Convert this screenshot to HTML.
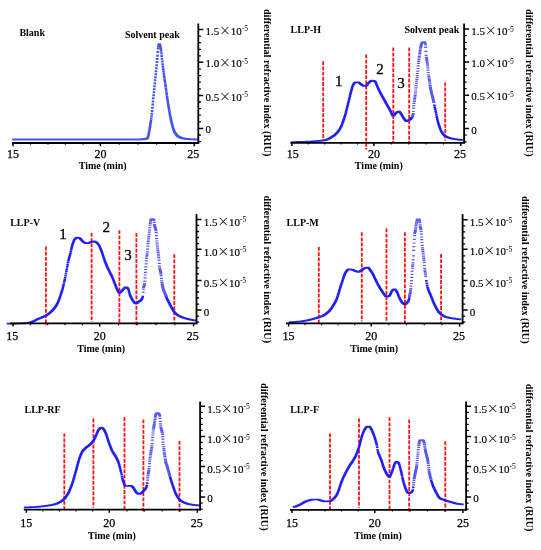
<!DOCTYPE html>
<html><head><meta charset="utf-8"><style>
html,body{margin:0;padding:0;background:#fff;}
svg{display:block;}
text{font-family:"Liberation Serif", "Times New Roman", serif;fill:#000;}
.tl{font-size:12px;stroke:#000;stroke-width:0.25px;}
.bl{font-size:10px;font-weight:bold;}
.yl{font-size:11px;stroke:#000;stroke-width:0.15px;}
.tm{font-family:"Noto Serif CJK SC","Liberation Serif",serif;font-size:11.5px;stroke-width:0.2px;}
.sup{font-size:7.5px;stroke-width:0;}
.rl{font-size:10.2px;font-weight:bold;}
.nm{font-size:10px;font-weight:bold;}
.num{font-size:15px;stroke:#000;stroke-width:0.3px;}
</style></head><body>
<svg width="541" height="550" viewBox="0 0 541 550">
<rect width="541" height="550" fill="#fff"/>
<path d="M12.2 139.5h2.6M12.5 139.5h2.6M12.8 139.5h2.6M13.1 139.5h2.6M13.4 139.5h2.6M13.7 139.5h2.6M14 139.5h2.6M14.3 139.5h2.6M14.6 139.5h2.6M14.9 139.5h2.6M15.2 139.5h2.6M15.5 139.5h2.6M15.8 139.5h2.6M16.1 139.5h2.6M16.4 139.5h2.6M16.7 139.5h2.6M17 139.5h2.6M17.3 139.5h2.6M17.6 139.5h2.6M17.9 139.5h2.6M18.2 139.5h2.6M18.5 139.5h2.6M18.8 139.5h2.6M19.1 139.5h2.6M19.4 139.5h2.6M19.7 139.5h2.6M20 139.5h2.6M20.3 139.5h2.6M20.6 139.5h2.6M20.9 139.5h2.6M21.2 139.5h2.6M21.5 139.5h2.6M21.8 139.5h2.6M22.1 139.5h2.6M22.4 139.5h2.6M22.7 139.5h2.6M23 139.5h2.6M23.3 139.5h2.6M23.6 139.5h2.6M23.9 139.5h2.6M24.2 139.5h2.6M24.5 139.5h2.6M24.8 139.5h2.6M25.1 139.5h2.6M25.4 139.5h2.6M25.7 139.5h2.6M26 139.5h2.6M26.3 139.5h2.6M26.6 139.5h2.6M26.9 139.5h2.6M27.2 139.5h2.6M27.5 139.5h2.6M27.8 139.5h2.6M28.1 139.5h2.6M28.4 139.5h2.6M28.7 139.5h2.6M29 139.5h2.6M29.3 139.5h2.6M29.6 139.5h2.6M29.9 139.5h2.6M30.2 139.5h2.6M30.5 139.5h2.6M30.8 139.5h2.6M31.1 139.5h2.6M31.4 139.5h2.6M31.7 139.5h2.6M32 139.5h2.6M32.3 139.5h2.6M32.6 139.5h2.6M32.9 139.5h2.6M33.2 139.5h2.6M33.5 139.5h2.6M33.8 139.5h2.6M34.1 139.5h2.6M34.4 139.5h2.6M34.7 139.5h2.6M35 139.5h2.6M35.3 139.5h2.6M35.6 139.5h2.6M35.9 139.5h2.6M36.2 139.5h2.6M36.5 139.5h2.6M36.8 139.5h2.6M37.1 139.5h2.6M37.4 139.5h2.6M37.7 139.5h2.6M38 139.5h2.6M38.3 139.5h2.6M38.6 139.5h2.6M38.9 139.5h2.6M39.2 139.5h2.6M39.5 139.5h2.6M39.8 139.5h2.6M40.1 139.5h2.6M40.4 139.5h2.6M40.7 139.5h2.6M41 139.5h2.6M41.3 139.5h2.6M41.6 139.5h2.6M41.9 139.5h2.6M42.2 139.5h2.6M42.5 139.5h2.6M42.8 139.5h2.6M43.1 139.5h2.6M43.4 139.5h2.6M43.7 139.5h2.6M44 139.5h2.6M44.3 139.5h2.6M44.6 139.5h2.6M44.9 139.5h2.6M45.2 139.5h2.6M45.5 139.5h2.6M45.8 139.5h2.6M46.1 139.5h2.6M46.4 139.5h2.6M46.7 139.5h2.6M47 139.5h2.6M47.3 139.5h2.6M47.6 139.5h2.6M47.9 139.5h2.6M48.2 139.5h2.6M48.5 139.5h2.6M48.8 139.5h2.6M49.1 139.5h2.6M49.4 139.5h2.6M49.7 139.5h2.6M50 139.5h2.6M50.3 139.5h2.6M50.6 139.5h2.6M50.9 139.5h2.6M51.2 139.5h2.6M51.5 139.5h2.6M51.8 139.5h2.6M52.1 139.5h2.6M52.4 139.5h2.6M52.7 139.5h2.6M53 139.5h2.6M53.3 139.5h2.6M53.6 139.5h2.6M53.9 139.5h2.6M54.2 139.5h2.6M54.5 139.5h2.6M54.8 139.5h2.6M55.1 139.5h2.6M55.4 139.5h2.6M55.7 139.5h2.6M56 139.5h2.6M56.3 139.5h2.6M56.6 139.5h2.6M56.9 139.5h2.6M57.2 139.5h2.6M57.5 139.5h2.6M57.8 139.5h2.6M58.1 139.5h2.6M58.4 139.5h2.6M58.7 139.5h2.6M59 139.5h2.6M59.3 139.5h2.6M59.6 139.5h2.6M59.9 139.5h2.6M60.2 139.5h2.6M60.5 139.5h2.6M60.8 139.5h2.6M61.1 139.5h2.6M61.4 139.5h2.6M61.7 139.5h2.6M62 139.5h2.6M62.3 139.5h2.6M62.6 139.5h2.6M62.9 139.5h2.6M63.2 139.5h2.6M63.5 139.5h2.6M63.8 139.5h2.6M64.1 139.5h2.6M64.4 139.5h2.6M64.7 139.5h2.6M65 139.5h2.6M65.3 139.5h2.6M65.6 139.5h2.6M65.9 139.5h2.6M66.2 139.5h2.6M66.5 139.5h2.6M66.8 139.5h2.6M67.1 139.5h2.6M67.4 139.5h2.6M67.7 139.5h2.6M68 139.5h2.6M68.3 139.5h2.6M68.6 139.5h2.6M68.9 139.5h2.6M69.2 139.5h2.6M69.5 139.5h2.6M69.8 139.5h2.6M70.1 139.5h2.6M70.4 139.5h2.6M70.7 139.5h2.6M71 139.5h2.6M71.3 139.5h2.6M71.6 139.5h2.6M71.9 139.5h2.6M72.2 139.5h2.6M72.5 139.5h2.6M72.8 139.5h2.6M73.1 139.5h2.6M73.4 139.5h2.6M73.7 139.5h2.6M74 139.5h2.6M74.3 139.5h2.6M74.6 139.5h2.6M74.9 139.5h2.6M75.2 139.5h2.6M75.5 139.5h2.6M75.8 139.5h2.6M76.1 139.5h2.6M76.4 139.5h2.6M76.7 139.5h2.6M77 139.5h2.6M77.3 139.5h2.6M77.6 139.5h2.6M77.9 139.5h2.6M78.2 139.5h2.6M78.5 139.5h2.6M78.8 139.5h2.6M79.1 139.5h2.6M79.4 139.5h2.6M79.7 139.5h2.6M80 139.5h2.6M80.3 139.5h2.6M80.6 139.5h2.6M80.9 139.5h2.6M81.2 139.5h2.6M81.5 139.5h2.6M81.8 139.5h2.6M82.1 139.5h2.6M82.4 139.5h2.6M82.7 139.5h2.6M83 139.5h2.6M83.3 139.5h2.6M83.6 139.5h2.6M83.9 139.5h2.6M84.2 139.5h2.6M84.5 139.5h2.6M84.8 139.5h2.6M85.1 139.5h2.6M85.4 139.5h2.6M85.7 139.5h2.6M86 139.5h2.6M86.3 139.5h2.6M86.6 139.5h2.6M86.9 139.5h2.6M87.2 139.5h2.6M87.5 139.5h2.6M87.8 139.5h2.6M88.1 139.5h2.6M88.4 139.5h2.6M88.7 139.5h2.6M89 139.5h2.6M89.3 139.5h2.6M89.6 139.5h2.6M89.9 139.5h2.6M90.2 139.5h2.6M90.5 139.5h2.6M90.8 139.5h2.6M91.1 139.5h2.6M91.4 139.5h2.6M91.7 139.5h2.6M92 139.5h2.6M92.3 139.5h2.6M92.6 139.5h2.6M92.9 139.5h2.6M93.2 139.5h2.6M93.5 139.5h2.6M93.8 139.5h2.6M94.1 139.5h2.6M94.4 139.5h2.6M94.7 139.5h2.6M95 139.5h2.6M95.3 139.5h2.6M95.6 139.5h2.6M95.9 139.5h2.6M96.2 139.5h2.6M96.5 139.5h2.6M96.8 139.5h2.6M97.1 139.5h2.6M97.4 139.5h2.6M97.7 139.5h2.6M98 139.5h2.6M98.3 139.5h2.6M98.6 139.5h2.6M98.9 139.5h2.6M99.2 139.5h2.6M99.5 139.5h2.6M99.8 139.5h2.6M100.1 139.5h2.6M100.4 139.5h2.6M100.7 139.5h2.6M101 139.5h2.6M101.3 139.5h2.6M101.6 139.5h2.6M101.9 139.5h2.6M102.2 139.5h2.6M102.5 139.5h2.6M102.8 139.5h2.6M103.1 139.5h2.6M103.4 139.5h2.6M103.7 139.5h2.6M104 139.5h2.6M104.3 139.5h2.6M104.6 139.5h2.6M104.9 139.5h2.6M105.2 139.5h2.6M105.5 139.5h2.6M105.8 139.5h2.6M106.1 139.5h2.6M106.4 139.5h2.6M106.7 139.5h2.6M107 139.5h2.6M107.3 139.5h2.6M107.6 139.5h2.6M107.9 139.5h2.6M108.2 139.5h2.6M108.5 139.5h2.6M108.8 139.5h2.6M109.1 139.5h2.6M109.4 139.5h2.6M109.7 139.5h2.6M110 139.5h2.6M110.3 139.5h2.6M110.6 139.5h2.6M110.9 139.5h2.6M111.2 139.5h2.6M111.5 139.5h2.6M111.8 139.5h2.6M112.1 139.5h2.6M112.4 139.5h2.6M112.7 139.5h2.6M113 139.5h2.6M113.3 139.5h2.6M113.6 139.5h2.6M113.9 139.5h2.6M114.2 139.5h2.6M114.5 139.5h2.6M114.8 139.5h2.6M115.1 139.5h2.6M115.4 139.5h2.6M115.7 139.5h2.6M116 139.5h2.6M116.3 139.5h2.6M116.6 139.5h2.6M116.9 139.5h2.6M117.2 139.5h2.6M117.5 139.5h2.6M117.8 139.5h2.6M118.1 139.5h2.6M118.4 139.5h2.6M118.7 139.5h2.6M119 139.5h2.6M119.3 139.5h2.6M119.6 139.5h2.6M119.9 139.5h2.6M120.2 139.5h2.6M120.5 139.5h2.6M120.8 139.5h2.6M121.1 139.5h2.6M121.4 139.5h2.6M121.7 139.5h2.6M122 139.5h2.6M122.3 139.5h2.6M122.6 139.5h2.6M122.9 139.5h2.6M123.2 139.5h2.6M123.5 139.5h2.6M123.8 139.5h2.6M124.1 139.5h2.6M124.4 139.5h2.6M124.7 139.5h2.6M125 139.5h2.6M125.3 139.5h2.6M125.6 139.5h2.6M125.9 139.5h2.6M126.2 139.5h2.6M126.5 139.5h2.6M126.8 139.5h2.6M127.1 139.5h2.6M127.4 139.5h2.6M127.7 139.5h2.6M128 139.5h2.6M128.3 139.5h2.6M128.6 139.5h2.6M128.9 139.5h2.6M129.2 139.4h2.6M129.5 139.4h2.6M129.8 139.4h2.6M130.1 139.4h2.6M130.4 139.4h2.6M130.7 139.4h2.6M131 139.4h2.6M131.3 139.4h2.6M131.6 139.4h2.6M131.9 139.4h2.6M132.2 139.4h2.6M132.5 139.4h2.6M132.8 139.4h2.6M133.1 139.4h2.6M133.4 139.4h2.6M133.7 139.4h2.6M134 139.4h2.6M134.3 139.4h2.6M134.6 139.4h2.6M134.9 139.4h2.6M135.2 139.4h2.6M135.5 139.4h2.6M135.8 139.4h2.6M136.1 139.4h2.6M136.4 139.4h2.6M136.7 139.4h2.6M137 139.4h2.6M137.3 139.4h2.6M137.6 139.4h2.6M137.9 139.4h2.6M138.2 139.4h2.6M138.5 139.4h2.6M138.8 139.4h2.6M139.1 139.4h2.6M139.4 139.4h2.6M139.7 139.4h2.6M140 139.4h2.6M140.3 139.3h2.6M140.6 139.3h2.6M140.9 139.3h2.6M141.2 139.3h2.6M141.5 139.3h2.6M141.8 139.2h2.6M142.1 139.2h2.6M142.4 139.2h2.6M142.7 139.1h2.6M143 139.1h2.6M143.3 139.1h2.6M143.6 139h2.6M143.9 139h2.6M144.2 138.9h2.6M144.5 138.8h2.6M144.8 138.8h2.6M145.1 138.7h2.6M145.4 138.5h2.6M145.7 138.4h2.6M146 138.2h2.6M146.3 138h2.6M146.6 137.5h2.6M146.9 136.5h2.6M147.2 135.2h2.6M147.5 133.6h2.6M147.8 131.9h2.6M148.1 130.2h2.6M148.4 128.6h2.6M148.7 126.9h2.6M149 125h2.6M149.3 123h2.6M149.6 120.9h2.6M149.9 118.7h2.6M150.2 116.3h2.6M150.5 113.7h2.6M150.8 110.9h2.6M151.1 107.8h2.6M151.4 104.6h2.6M151.7 101.4h2.6M152 98.3h2.6M152.3 95.3h2.6M152.6 92.3h2.6M152.9 89.3h2.6M153.2 86.2h2.6M153.5 83.2h2.6M153.8 80.2h2.6M154.1 77.2h2.6M154.4 74.2h2.6M154.7 71.2h2.6M155 68.2h2.6M155.3 65.2h2.6M155.6 62.1h2.6M155.9 59.1h2.6M156.2 55.7h2.6M156.5 52h2.6M156.8 48.6h2.6M157.1 46.2h2.6M157.4 45h2.6M157.7 44.3h2.6M158 44.2h2.6M158.3 44.4h2.6M158.6 44.8h2.6M158.9 45.7h2.6M159.2 47.1h2.6M159.5 48.7h2.6M159.8 50.7h2.6M160.1 53.2h2.6M160.4 55.9h2.6M160.7 58.7h2.6M161 61.5h2.6M161.3 64.2h2.6M161.6 66.7h2.6M161.9 69h2.6M162.2 71.3h2.6M162.5 73.5h2.6M162.8 75.7h2.6M163.1 77.8h2.6M163.4 80h2.6M163.7 82.1h2.6M164 84.2h2.6M164.3 86.3h2.6M164.6 88.4h2.6M164.9 90.5h2.6M165.2 92.7h2.6M165.5 94.8h2.6M165.8 96.9h2.6M166.1 99h2.6M166.4 101.1h2.6M166.7 103h2.6M167 105h2.6M167.3 106.8h2.6M167.6 108.6h2.6M167.9 110.3h2.6M168.2 112.1h2.6M168.5 113.8h2.6M168.8 115.4h2.6M169.1 117h2.6M169.4 118.5h2.6M169.7 119.9h2.6M170 121.3h2.6M170.3 122.5h2.6M170.6 123.7h2.6M170.9 124.9h2.6M171.2 126h2.6M171.5 127.1h2.6M171.8 128.1h2.6M172.1 129.1h2.6M172.4 130h2.6M172.7 130.7h2.6M173 131.4h2.6M173.3 132h2.6M173.6 132.5h2.6M173.9 133h2.6M174.2 133.5h2.6M174.5 133.9h2.6M174.8 134.3h2.6M175.1 134.7h2.6M175.4 135.1h2.6M175.7 135.4h2.6M176 135.7h2.6M176.3 136h2.6M176.6 136.2h2.6M176.9 136.4h2.6M177.2 136.6h2.6M177.5 136.8h2.6M177.8 136.9h2.6M178.1 137.1h2.6M178.4 137.2h2.6M178.7 137.4h2.6M179 137.5h2.6M179.3 137.6h2.6M179.6 137.8h2.6M179.9 137.9h2.6M180.2 138h2.6M180.5 138.1h2.6M180.8 138.2h2.6M181.1 138.3h2.6M181.4 138.4h2.6M181.7 138.4h2.6M182 138.5h2.6M182.3 138.5h2.6M182.6 138.6h2.6M182.9 138.6h2.6M183.2 138.7h2.6M183.5 138.7h2.6M183.8 138.8h2.6M184.1 138.8h2.6M184.4 138.9h2.6M184.7 138.9h2.6M185 138.9h2.6M185.3 139h2.6M185.6 139h2.6M185.9 139h2.6M186.2 139h2.6M186.5 139.1h2.6M186.8 139.1h2.6M187.1 139.1h2.6M187.4 139.1h2.6M187.7 139.1h2.6M188 139.2h2.6M188.3 139.2h2.6M188.6 139.2h2.6M188.9 139.2h2.6M189.2 139.2h2.6M189.5 139.2h2.6M189.8 139.2h2.6M190.1 139.3h2.6M190.4 139.3h2.6M190.7 139.3h2.6M191 139.3h2.6M191.3 139.3h2.6M191.6 139.3h2.6M191.9 139.3h2.6M192.2 139.3h2.6M192.5 139.3h2.6M192.8 139.4h2.6M193.1 139.4h2.6M193.4 139.4h2.6M193.7 139.4h2.6M194 139.4h2.6M194.3 139.4h2.6M194.6 139.4h2.6M194.9 139.4h2.6M195.2 139.4h2.6M195.5 139.4h2.6M195.8 139.4h2.6M196.1 139.4h2.6" stroke="#4455ee" stroke-width="2.0" fill="none"/>
<path d="M12 143H199.1" stroke="#000" stroke-width="1.8" fill="none"/>
<path d="M198.3 23.5V143.8" stroke="#000" stroke-width="1.8" fill="none"/>
<path d="M13 143v3.2M100.4 143v3.2M194.3 143v3.2" stroke="#000" stroke-width="1.5" fill="none"/>
<path d="M30.5 143v1.8M48 143v1.8M65.4 143v1.8M82.9 143v1.8M119.2 143v1.8M138 143v1.8M156.7 143v1.8M175.5 143v1.8" stroke="#000" stroke-width="1.1" fill="none"/>
<path d="M198.3 128.4h5M198.3 95.6h5M198.3 62.2h5M198.3 29.5h5" stroke="#000" stroke-width="1.5" fill="none"/>
<path d="M198.3 141.6h2.6M198.3 135h2.6M198.3 121.8h2.6M198.3 115.2h2.6M198.3 108.6h2.6M198.3 102h2.6M198.3 88.8h2.6M198.3 82.2h2.6M198.3 75.7h2.6M198.3 69.1h2.6M198.3 55.9h2.6M198.3 49.3h2.6M198.3 42.7h2.6M198.3 36.1h2.6" stroke="#000" stroke-width="1.3" fill="none"/>
<text x="13" y="157.7" text-anchor="middle" class="tl">15</text>
<text x="100.4" y="157.7" text-anchor="middle" class="tl">20</text>
<text x="193.3" y="157.7" text-anchor="middle" class="tl">25</text>
<text x="102.7" y="168.7" text-anchor="middle" class="bl">Time (min)</text>
<text x="205.5" y="133.4" class="yl">0</text>
<text x="205.5" y="100.6" class="yl">0.5<tspan class="tm">×</tspan>10<tspan class="sup" dy="-3.5">-5</tspan></text>
<text x="205.5" y="67.2" class="yl">1.0<tspan class="tm">×</tspan>10<tspan class="sup" dy="-3.5">-5</tspan></text>
<text x="205.5" y="34.5" class="yl">1.5<tspan class="tm">×</tspan>10<tspan class="sup" dy="-3.5">-5</tspan></text>
<text transform="translate(263.7 82.7) rotate(90)" x="0" y="0" text-anchor="middle" class="rl">differential refractive index (RIU)</text>
<text x="19.4" y="35.7" class="nm">Blank</text>
<text x="125" y="38.3" class="nm">Solvent peak</text>
<line x1="323.2" y1="61.3" x2="323.2" y2="141" stroke="#ff1010" stroke-width="1.8" stroke-dasharray="3.8 1.4"/>
<line x1="366.2" y1="54.5" x2="366.2" y2="149.6" stroke="#ff1010" stroke-width="1.8" stroke-dasharray="3.8 1.4"/>
<line x1="393.3" y1="47.5" x2="393.3" y2="142.4" stroke="#ff1010" stroke-width="1.8" stroke-dasharray="3.8 1.4"/>
<line x1="409.2" y1="47.5" x2="409.2" y2="144" stroke="#ff1010" stroke-width="1.8" stroke-dasharray="3.8 1.4"/>
<line x1="445.2" y1="82.4" x2="445.2" y2="140.5" stroke="#ff1010" stroke-width="1.8" stroke-dasharray="3.8 1.4"/>
<path d="M290.7 142h2.6M291.1 142h2.6M291.5 142h2.6M291.9 142h2.6M292.3 142h2.6M292.7 142h2.6M293.1 142h2.6M293.5 142h2.6M293.9 142h2.6M294.3 142h2.6M294.7 142h2.6M295.1 142h2.6M295.5 142h2.6M295.9 141.9h2.6M296.3 141.9h2.6M296.7 141.9h2.6M297.1 141.9h2.6M297.5 141.9h2.6M297.9 141.9h2.6M298.3 141.9h2.6M298.7 141.9h2.6M299.1 141.9h2.6M299.5 141.9h2.6M299.9 141.9h2.6M300.3 141.9h2.6M300.7 141.9h2.6M301.1 141.9h2.6M301.5 141.8h2.6M301.9 141.8h2.6M302.3 141.8h2.6M302.7 141.8h2.6M303.1 141.8h2.6M303.5 141.8h2.6M303.9 141.8h2.6M304.3 141.8h2.6M304.7 141.8h2.6M305.1 141.7h2.6M305.5 141.7h2.6M305.9 141.7h2.6M306.3 141.7h2.6M306.7 141.7h2.6M307.1 141.7h2.6M307.5 141.7h2.6M307.9 141.6h2.6M308.3 141.6h2.6M308.7 141.6h2.6M309.1 141.6h2.6M309.5 141.6h2.6M309.9 141.5h2.6M310.3 141.5h2.6M310.7 141.5h2.6M311.1 141.5h2.6M311.5 141.4h2.6M311.9 141.4h2.6M312.3 141.4h2.6M312.7 141.3h2.6M313.1 141.3h2.6M313.5 141.3h2.6M313.9 141.2h2.6M314.3 141.2h2.6M314.7 141.2h2.6M315.1 141.1h2.6M315.5 141.1h2.6M315.9 141.1h2.6M316.3 141h2.6M316.7 141h2.6M317.1 141h2.6M317.5 140.9h2.6M317.9 140.9h2.6M318.3 140.9h2.6M318.7 140.8h2.6M319.1 140.8h2.6M319.5 140.7h2.6M319.9 140.7h2.6M320.3 140.7h2.6M320.7 140.6h2.6M321.1 140.6h2.6M321.5 140.5h2.6M321.9 140.5h2.6M322.3 140.4h2.6M322.7 140.4h2.6M323.1 140.3h2.6M323.5 140.2h2.6M323.9 140.2h2.6M324.3 140.1h2.6M324.7 140h2.6M325.1 139.8h2.6M325.5 139.7h2.6M325.9 139.5h2.6M326.3 139.4h2.6M326.7 139.2h2.6M327.1 139h2.6M327.5 138.9h2.6M327.9 138.7h2.6M328.3 138.4h2.6M328.7 138.2h2.6M329.1 137.9h2.6M329.5 137.7h2.6M329.9 137.4h2.6M330.3 137.2h2.6M330.7 136.9h2.6M331.1 136.7h2.6M331.5 136.4h2.6M331.9 136.2h2.6M332.3 135.9h2.6M332.7 135.6h2.6M333.1 135.3h2.6M333.5 135h2.6M333.9 134.6h2.6M334.3 134.2h2.6M334.7 133.8h2.6M335.1 133.4h2.6M335.5 133h2.6M335.9 132.6h2.6M336.3 132.1h2.6M336.7 131.6h2.6M337.1 131.1h2.6M337.5 130.6h2.6M337.9 130h2.6M338.3 129.4h2.6M338.7 128.7h2.6M339.1 128h2.6M339.5 127.2h2.6M339.9 126.4h2.6M340.3 125.5h2.6M340.7 124.5h2.6M341.1 123.4h2.6M341.5 122.2h2.6M341.9 121.1h2.6M342.3 119.9h2.6M342.7 118.8h2.6M343.1 117.6h2.6M343.5 116.4h2.6M343.9 115.1h2.6M344.3 113.7h2.6M344.7 112.1h2.6M345.1 110.5h2.6M345.5 108.9h2.6M345.9 107.2h2.6M346.3 105.6h2.6M346.7 104h2.6M347.1 102.4h2.6M347.5 100.8h2.6M347.9 99.2h2.6M348.3 97.6h2.6M348.7 95.9h2.6M349.1 94.2h2.6M349.5 92.6h2.6M349.9 91.1h2.6M350.3 89.6h2.6M350.7 88.1h2.6M351.1 86.7h2.6M351.5 85.6h2.6M351.9 84.9h2.6M352.3 84.2h2.6M352.7 83.6h2.6M353.1 83.1h2.6M353.5 82.7h2.6M353.9 82.5h2.6M354.3 82.4h2.6M354.7 82.4h2.6M355.1 82.4h2.6M355.5 82.4h2.6M355.9 82.4h2.6M356.3 82.4h2.6M356.7 82.4h2.6M357.1 82.4h2.6M357.5 82.6h2.6M357.9 82.8h2.6M358.3 83.1h2.6M358.7 83.5h2.6M359.1 83.8h2.6M359.5 84.2h2.6M359.9 84.4h2.6M360.3 84.7h2.6M360.7 85h2.6M361.1 85.2h2.6M361.5 85.5h2.6M361.9 85.7h2.6M362.3 85.8h2.6M362.7 85.8h2.6M363.1 85.8h2.6M363.5 85.8h2.6M363.9 85.8h2.6M364.3 85.8h2.6M364.7 85.8h2.6M365.1 85.7h2.6M365.5 85.3h2.6M365.9 84.8h2.6M366.3 84.3h2.6M366.7 83.7h2.6M367.1 83.1h2.6M367.5 82.7h2.6M367.9 82.4h2.6M368.3 82h2.6M368.7 81.7h2.6M369.1 81.4h2.6M369.5 81.1h2.6M369.9 80.9h2.6M370.3 80.8h2.6M370.7 80.7h2.6M371.1 80.7h2.6M371.5 80.8h2.6M371.9 80.8h2.6M372.3 80.9h2.6M372.7 81.1h2.6M373.1 81.2h2.6M373.5 81.4h2.6M373.9 81.6h2.6M374.3 82.2h2.6M374.7 83h2.6M375.1 83.9h2.6M375.5 85h2.6M375.9 86.1h2.6M376.3 87.1h2.6M376.7 88h2.6M377.1 88.8h2.6M377.5 89.7h2.6M377.9 90.5h2.6M378.3 91.3h2.6M378.7 92.1h2.6M379.1 92.9h2.6M379.5 93.7h2.6M379.9 94.4h2.6M380.3 95.1h2.6M380.7 95.9h2.6M381.1 96.6h2.6M381.5 97.3h2.6M381.9 98h2.6M382.3 98.7h2.6M382.7 99.4h2.6M383.1 100.2h2.6M383.5 100.9h2.6M383.9 101.6h2.6M384.3 102.4h2.6M384.7 103.1h2.6M385.1 103.8h2.6M385.5 104.5h2.6M385.9 105.2h2.6M386.3 105.9h2.6M386.7 106.6h2.6M387.1 107.3h2.6M387.5 107.9h2.6M387.9 108.6h2.6M388.3 109.3h2.6M388.7 110h2.6M389.1 110.8h2.6M389.5 111.7h2.6M389.9 112.7h2.6M390.3 113.6h2.6M390.7 114.5h2.6M391.1 115.2h2.6M391.5 115.6h2.6M391.9 115.8h2.6M392.3 115.7h2.6M392.7 115.4h2.6M393.1 114.9h2.6M393.5 114.4h2.6M393.9 113.9h2.6M394.3 113.3h2.6M394.7 112.9h2.6M395.1 112.6h2.6M395.5 112.4h2.6M395.9 112.2h2.6M396.3 112h2.6M396.7 111.8h2.6M397.1 111.7h2.6M397.5 111.6h2.6M397.9 111.6h2.6M398.3 111.9h2.6M398.7 112.3h2.6M399.1 112.8h2.6M399.5 113.5h2.6M399.9 114.1h2.6M400.3 114.7h2.6M400.7 115.3h2.6M401.1 116h2.6M401.5 116.8h2.6M401.9 117.5h2.6M402.3 118.1h2.6M402.7 118.7h2.6M403.1 119.2h2.6M403.5 119.8h2.6M403.9 120.3h2.6M404.3 120.7h2.6M404.7 121h2.6M405.1 121.1h2.6M405.5 121.1h2.6M405.9 121h2.6M406.3 120.8h2.6M406.7 120.7h2.6M407.1 120.4h2.6M407.5 120.2h2.6M407.9 120h2.6M408.3 119.8h2.6M408.7 119.5h2.6M409.1 119.2h2.6M409.5 118.9h2.6M409.9 118.4h2.6M410.3 117.9h2.6M410.7 117.4h2.6M411.1 116.6h2.6M433.1 105.3h2.6M433.5 107.3h2.6M433.9 109.2h2.6M434.3 111.1h2.6M434.7 112.9h2.6M435.1 114.8h2.6M435.5 116.8h2.6M435.9 118.6h2.6M436.3 120.3h2.6M436.7 121.8h2.6M437.1 123.3h2.6M437.5 124.6h2.6M437.9 125.9h2.6M438.3 127.1h2.6M438.7 128.2h2.6M439.1 129.3h2.6M439.5 130.3h2.6M439.9 131.2h2.6M440.3 131.9h2.6M440.7 132.5h2.6M441.1 133.2h2.6M441.5 133.7h2.6M441.9 134.2h2.6M442.3 134.7h2.6M442.7 135.1h2.6M443.1 135.5h2.6M443.5 135.8h2.6M443.9 136.1h2.6M444.3 136.3h2.6M444.7 136.5h2.6M445.1 136.7h2.6M445.5 136.9h2.6M445.9 137.1h2.6M446.3 137.3h2.6M446.7 137.4h2.6M447.1 137.6h2.6M447.5 137.7h2.6M447.9 137.8h2.6M448.3 137.9h2.6M448.7 138.1h2.6M449.1 138.2h2.6M449.5 138.3h2.6M449.9 138.4h2.6M450.3 138.5h2.6M450.7 138.6h2.6M451.1 138.7h2.6M451.5 138.7h2.6M451.9 138.8h2.6M452.3 138.9h2.6M452.7 139h2.6M453.1 139h2.6M453.5 139.1h2.6M453.9 139.2h2.6M454.3 139.2h2.6M454.7 139.3h2.6M455.1 139.4h2.6M455.5 139.4h2.6M455.9 139.5h2.6M456.3 139.5h2.6M456.7 139.6h2.6M457.1 139.6h2.6M457.5 139.7h2.6M457.9 139.7h2.6M458.3 139.8h2.6M458.7 139.8h2.6M459.1 139.9h2.6M459.5 139.9h2.6M459.9 139.9h2.6M460.3 140h2.6M460.7 140h2.6" stroke="#2020f5" stroke-width="1.7" fill="none"/>
<path d="M411 116.3h3M411.2 115.6h3M411.4 114.8h3M411.7 113.6h3M411.9 111.5h3M412.1 108.1h3M412.3 105.6h3M412.5 103.5h3M412.8 101.7h3M413 100h3M413.2 98.6h3M413.4 97.1h3M413.6 95.7h3M413.9 94h3M414.1 92.1h3M414.3 90h3M414.5 87.8h3M414.7 85.6h3M415 83.4h3M415.2 81.2h3M415.4 79.3h3M415.6 77.5h3M415.8 75.6h3M416.1 73.5h3M416.3 71.2h3M416.5 68.5h3M416.7 65.8h3M416.9 63.4h3M417.2 61.3h3M417.4 59.6h3M417.6 58h3M417.8 56.6h3M418 55h3M418.3 53.4h3M418.5 51.8h3M418.7 50.4h3M418.9 49h3M419.1 47.7h3M419.4 46.6h3M419.6 45.7h3M419.8 44.9h3M420 44.1h3M420.2 43.4h3M420.5 42.9h3M420.7 42.6h3M420.9 42.4h3M421.1 42.3h3M421.3 42.2h3M421.6 42h3M421.8 41.9h3M422 41.9h3M422.2 41.8h3M422.4 41.8h3M422.7 41.8h3M422.9 41.9h3M423.1 42.2h3M423.3 42.5h3M423.5 42.9h3M423.8 43.4h3M424 44.9h3M424.2 47.4h3M424.4 51.3h3M424.6 55.3h3M424.9 57.3h3M425.1 58.7h3M425.3 59.8h3M425.5 61.1h3M425.7 62.6h3M426 64.1h3M426.2 65.8h3M426.4 67.9h3M426.6 70.2h3M426.8 72.5h3M427.1 74.8h3M427.3 76.6h3M427.5 78h3M427.7 79.3h3M427.9 80.6h3M428.2 82.1h3M428.4 83.8h3M428.6 85.5h3M428.8 86.8h3M429 88.1h3M429.3 89.3h3M429.5 90.4h3M429.7 91.4h3M429.9 92.4h3M430.1 93.4h3M430.4 94.4h3M430.6 95.3h3M430.8 96.1h3M431 96.9h3M431.2 97.7h3M431.5 98.5h3M431.7 99.4h3M431.9 100.3h3M432.1 101.3h3M432.3 102.4h3" stroke="#5858f2" stroke-width="1.2" fill="none"/>
<path d="M290.5 142.8H464.9" stroke="#000" stroke-width="1.8" fill="none"/>
<path d="M464.1 23.6V143.6" stroke="#000" stroke-width="1.8" fill="none"/>
<path d="M291.9 142.8v3.2M373.9 142.8v3.2M460.8 142.8v3.2" stroke="#000" stroke-width="1.5" fill="none"/>
<path d="M308.3 142.8v1.8M324.7 142.8v1.8M341.1 142.8v1.8M357.5 142.8v1.8M391.3 142.8v1.8M408.7 142.8v1.8M426 142.8v1.8M443.4 142.8v1.8" stroke="#000" stroke-width="1.1" fill="none"/>
<path d="M464.1 128.5h5M464.1 95.3h5M464.1 62h5M464.1 29.1h5" stroke="#000" stroke-width="1.5" fill="none"/>
<path d="M464.1 141.8h2.6M464.1 135.1h2.6M464.1 121.9h2.6M464.1 115.2h2.6M464.1 108.6h2.6M464.1 102h2.6M464.1 88.7h2.6M464.1 82.1h2.6M464.1 75.5h2.6M464.1 68.9h2.6M464.1 55.6h2.6M464.1 49h2.6M464.1 42.4h2.6M464.1 35.7h2.6" stroke="#000" stroke-width="1.3" fill="none"/>
<text x="292.7" y="157.5" text-anchor="middle" class="tl">15</text>
<text x="373.9" y="157.5" text-anchor="middle" class="tl">20</text>
<text x="460.1" y="157.5" text-anchor="middle" class="tl">25</text>
<text x="378.8" y="168.5" text-anchor="middle" class="bl">Time (min)</text>
<text x="471.3" y="133.5" class="yl">0</text>
<text x="471.3" y="100.3" class="yl">0.5<tspan class="tm">×</tspan>10<tspan class="sup" dy="-3.5">-5</tspan></text>
<text x="471.3" y="67" class="yl">1.0<tspan class="tm">×</tspan>10<tspan class="sup" dy="-3.5">-5</tspan></text>
<text x="471.3" y="35.1" class="yl">1.5<tspan class="tm">×</tspan>10<tspan class="sup" dy="-3.5">-5</tspan></text>
<text transform="translate(526.3 82.8) rotate(90)" x="0" y="0" text-anchor="middle" class="rl">differential refractive index (RIU)</text>
<text x="290.6" y="33" class="nm">LLP-H</text>
<text x="404.5" y="33" class="nm">Solvent peak</text>
<text x="335" y="86" class="num">1</text>
<text x="376.2" y="73.6" class="num">2</text>
<text x="397.2" y="88" class="num">3</text>
<line x1="45.9" y1="246.6" x2="45.9" y2="325.3" stroke="#ff1010" stroke-width="1.8" stroke-dasharray="3.8 1.4"/>
<line x1="91.6" y1="233" x2="91.6" y2="322" stroke="#ff1010" stroke-width="1.8" stroke-dasharray="3.8 1.4"/>
<line x1="119.4" y1="230.3" x2="119.4" y2="323.3" stroke="#ff1010" stroke-width="1.8" stroke-dasharray="3.8 1.4"/>
<line x1="136.4" y1="233.1" x2="136.4" y2="326.4" stroke="#ff1010" stroke-width="1.8" stroke-dasharray="3.8 1.4"/>
<line x1="174.3" y1="254.3" x2="174.3" y2="324" stroke="#ff1010" stroke-width="1.8" stroke-dasharray="3.8 1.4"/>
<path d="M6.7 323.6h2.6M7.1 323.6h2.6M7.5 323.6h2.6M7.9 323.6h2.6M8.3 323.6h2.6M8.7 323.6h2.6M9.1 323.6h2.6M9.5 323.6h2.6M9.9 323.6h2.6M10.3 323.6h2.6M10.7 323.6h2.6M11.1 323.6h2.6M11.5 323.6h2.6M11.9 323.6h2.6M12.3 323.6h2.6M12.7 323.6h2.6M13.1 323.6h2.6M13.5 323.6h2.6M13.9 323.6h2.6M14.3 323.6h2.6M14.7 323.6h2.6M15.1 323.5h2.6M15.5 323.5h2.6M15.9 323.5h2.6M16.3 323.5h2.6M16.7 323.5h2.6M17.1 323.5h2.6M17.5 323.5h2.6M17.9 323.5h2.6M18.3 323.5h2.6M18.7 323.5h2.6M19.1 323.5h2.6M19.5 323.5h2.6M19.9 323.5h2.6M20.3 323.5h2.6M20.7 323.4h2.6M21.1 323.4h2.6M21.5 323.4h2.6M21.9 323.4h2.6M22.3 323.3h2.6M22.7 323.3h2.6M23.1 323.3h2.6M23.5 323.2h2.6M23.9 323.2h2.6M24.3 323.1h2.6M24.7 323.1h2.6M25.1 323.1h2.6M25.5 323h2.6M25.9 323h2.6M26.3 322.9h2.6M26.7 322.9h2.6M27.1 322.8h2.6M27.5 322.8h2.6M27.9 322.7h2.6M28.3 322.6h2.6M28.7 322.5h2.6M29.1 322.4h2.6M29.5 322.3h2.6M29.9 322.2h2.6M30.3 322.1h2.6M30.7 321.9h2.6M31.1 321.7h2.6M31.5 321.6h2.6M31.9 321.4h2.6M32.3 321.2h2.6M32.7 321h2.6M33.1 320.8h2.6M33.5 320.6h2.6M33.9 320.4h2.6M34.3 320.2h2.6M34.7 320h2.6M35.1 319.8h2.6M35.5 319.6h2.6M35.9 319.4h2.6M36.3 319.2h2.6M36.7 319h2.6M37.1 318.8h2.6M37.5 318.7h2.6M37.9 318.5h2.6M38.3 318.3h2.6M38.7 318.2h2.6M39.1 318h2.6M39.5 317.9h2.6M39.9 317.7h2.6M40.3 317.6h2.6M40.7 317.4h2.6M41.1 317.2h2.6M41.5 317.1h2.6M41.9 316.9h2.6M42.3 316.7h2.6M42.7 316.6h2.6M43.1 316.4h2.6M43.5 316.2h2.6M43.9 316h2.6M44.3 315.8h2.6M44.7 315.5h2.6M45.1 315.3h2.6M45.5 315.1h2.6M45.9 314.8h2.6M46.3 314.5h2.6M46.7 314.2h2.6M47.1 314h2.6M47.5 313.6h2.6M47.9 313.3h2.6M48.3 313h2.6M48.7 312.7h2.6M49.1 312.3h2.6M49.5 312h2.6M49.9 311.6h2.6M50.3 311.2h2.6M50.7 310.8h2.6M51.1 310.4h2.6M51.5 310h2.6M51.9 309.6h2.6M52.3 309.1h2.6M52.7 308.6h2.6M53.1 308.1h2.6M53.5 307.6h2.6M53.9 307.1h2.6M54.3 306.5h2.6M54.7 305.9h2.6M55.1 305.3h2.6M55.5 304.6h2.6M55.9 303.8h2.6M56.3 303h2.6M56.7 302.1h2.6M57.1 301.2h2.6M57.5 300.3h2.6M57.9 299.3h2.6M58.3 298.1h2.6M58.7 296.9h2.6M59.1 295.7h2.6M59.5 294.5h2.6M59.9 293.3h2.6M60.3 292.1h2.6M60.7 290.9h2.6M61.1 289.6h2.6M61.5 288.1h2.6M61.9 286.5h2.6M62.3 284.8h2.6M62.7 283h2.6M63.1 281.2h2.6M63.5 279.4h2.6M63.9 277.5h2.6M64.3 275.5h2.6M64.7 273.4h2.6M65.1 271.2h2.6M65.5 269.1h2.6M65.9 266.9h2.6M66.3 264.8h2.6M66.7 262.7h2.6M67.1 260.7h2.6M67.5 259.1h2.6M67.9 257.7h2.6M68.3 256.4h2.6M68.7 255h2.6M69.1 253.5h2.6M69.5 251.6h2.6M69.9 249.6h2.6M70.3 247.8h2.6M70.7 246.3h2.6M71.1 244.9h2.6M71.5 243.6h2.6M71.9 242.5h2.6M72.3 241.4h2.6M72.7 240.5h2.6M73.1 239.7h2.6M73.5 239.3h2.6M73.9 238.8h2.6M74.3 238.5h2.6M74.7 238.2h2.6M75.1 237.9h2.6M75.5 237.8h2.6M75.9 237.7h2.6M76.3 237.7h2.6M76.7 237.8h2.6M77.1 237.8h2.6M77.5 237.9h2.6M77.9 238.1h2.6M78.3 238.2h2.6M78.7 238.4h2.6M79.1 238.8h2.6M79.5 239.2h2.6M79.9 239.7h2.6M80.3 240.2h2.6M80.7 240.6h2.6M81.1 241h2.6M81.5 241.4h2.6M81.9 241.8h2.6M82.3 242.2h2.6M82.7 242.5h2.6M83.1 242.7h2.6M83.5 242.8h2.6M83.9 242.9h2.6M84.3 243h2.6M84.7 243.1h2.6M85.1 243.1h2.6M85.5 243.2h2.6M85.9 243.2h2.6M86.3 243.2h2.6M86.7 243.1h2.6M87.1 243h2.6M87.5 242.9h2.6M87.9 242.8h2.6M88.3 242.6h2.6M88.7 242.5h2.6M89.1 242.3h2.6M89.5 242.2h2.6M89.9 242h2.6M90.3 241.9h2.6M90.7 241.8h2.6M91.1 241.7h2.6M91.5 241.6h2.6M91.9 241.5h2.6M92.3 241.4h2.6M92.7 241.4h2.6M93.1 241.5h2.6M93.5 241.6h2.6M93.9 241.8h2.6M94.3 242h2.6M94.7 242.2h2.6M95.1 242.4h2.6M95.5 242.7h2.6M95.9 243.1h2.6M96.3 243.5h2.6M96.7 244h2.6M97.1 244.5h2.6M97.5 245h2.6M97.9 245.7h2.6M98.3 246.5h2.6M98.7 247.4h2.6M99.1 248.3h2.6M99.5 249.2h2.6M99.9 250.3h2.6M100.3 251.3h2.6M100.7 252.4h2.6M101.1 253.6h2.6M101.5 254.8h2.6M101.9 256h2.6M102.3 257.3h2.6M102.7 258.6h2.6M103.1 259.7h2.6M103.5 260.8h2.6M103.9 261.9h2.6M104.3 262.9h2.6M104.7 263.9h2.6M105.1 264.8h2.6M105.5 265.8h2.6M105.9 266.7h2.6M106.3 267.6h2.6M106.7 268.5h2.6M107.1 269.4h2.6M107.5 270.2h2.6M107.9 271h2.6M108.3 271.8h2.6M108.7 272.5h2.6M109.1 273.3h2.6M109.5 274.1h2.6M109.9 274.9h2.6M110.3 275.7h2.6M110.7 276.6h2.6M111.1 277.5h2.6M111.5 278.5h2.6M111.9 279.5h2.6M112.3 280.5h2.6M112.7 281.6h2.6M113.1 282.6h2.6M113.5 283.5h2.6M113.9 284.6h2.6M114.3 285.6h2.6M114.7 286.6h2.6M115.1 287.6h2.6M115.5 288.5h2.6M115.9 289.4h2.6M116.3 290.3h2.6M116.7 291.2h2.6M117.1 292h2.6M117.5 292.6h2.6M117.9 292.9h2.6M118.3 292.9h2.6M118.7 292.7h2.6M119.1 292.3h2.6M119.5 292h2.6M119.9 291.5h2.6M120.3 291.1h2.6M120.7 290.7h2.6M121.1 290.3h2.6M121.5 289.9h2.6M121.9 289.4h2.6M122.3 289h2.6M122.7 288.5h2.6M123.1 288.1h2.6M123.5 287.7h2.6M123.9 287.5h2.6M124.3 287.3h2.6M124.7 287.3h2.6M125.1 287.4h2.6M125.5 287.6h2.6M125.9 287.9h2.6M126.3 288.2h2.6M126.7 288.6h2.6M127.1 289.3h2.6M127.5 290.5h2.6M127.9 292.1h2.6M128.3 293.7h2.6M128.7 294.9h2.6M129.1 295.8h2.6M129.5 296.8h2.6M129.9 297.6h2.6M130.3 298.5h2.6M130.7 299.2h2.6M131.1 299.9h2.6M131.5 300.5h2.6M131.9 301h2.6M132.3 301.6h2.6M132.7 302.1h2.6M133.1 302.6h2.6M133.5 303h2.6M133.9 303.3h2.6M134.3 303.5h2.6M134.7 303.5h2.6M135.1 303.4h2.6M135.5 303.2h2.6M135.9 302.9h2.6M136.3 302.6h2.6M136.7 302.3h2.6M137.1 302h2.6M137.5 301.7h2.6M137.9 301.4h2.6M138.3 301.2h2.6M138.7 300.9h2.6M139.1 300.6h2.6M139.5 300.3h2.6M139.9 299.9h2.6M140.3 299.4h2.6M140.7 298.7h2.6M141.1 297.8h2.6M141.5 296.5h2.6M164.7 296.1h2.6M165.1 297.1h2.6M165.5 298.1h2.6M165.9 299h2.6M166.3 299.9h2.6M166.7 300.7h2.6M167.1 301.5h2.6M167.5 302.4h2.6M167.9 303.2h2.6M168.3 303.9h2.6M168.7 304.7h2.6M169.1 305.4h2.6M169.5 306.2h2.6M169.9 306.9h2.6M170.3 307.7h2.6M170.7 308.4h2.6M171.1 309.2h2.6M171.5 309.9h2.6M171.9 310.5h2.6M172.3 311.1h2.6M172.7 311.7h2.6M173.1 312.2h2.6M173.5 312.6h2.6M173.9 313h2.6M174.3 313.4h2.6M174.7 313.8h2.6M175.1 314.1h2.6M175.5 314.4h2.6M175.9 314.7h2.6M176.3 315h2.6M176.7 315.3h2.6M177.1 315.5h2.6M177.5 315.8h2.6M177.9 316h2.6M178.3 316.2h2.6M178.7 316.4h2.6M179.1 316.6h2.6M179.5 316.7h2.6M179.9 316.9h2.6M180.3 317.1h2.6M180.7 317.2h2.6M181.1 317.4h2.6M181.5 317.5h2.6M181.9 317.6h2.6M182.3 317.8h2.6M182.7 317.9h2.6M183.1 318h2.6M183.5 318.1h2.6M183.9 318.3h2.6M184.3 318.4h2.6M184.7 318.5h2.6M185.1 318.6h2.6M185.5 318.7h2.6M185.9 318.8h2.6M186.3 318.9h2.6M186.7 319h2.6M187.1 319.1h2.6M187.5 319.2h2.6M187.9 319.3h2.6M188.3 319.4h2.6M188.7 319.5h2.6M189.1 319.6h2.6M189.5 319.6h2.6M189.9 319.7h2.6M190.3 319.8h2.6M190.7 319.9h2.6M191.1 320h2.6M191.5 320h2.6M191.9 320.1h2.6M192.3 320.2h2.6M192.7 320.3h2.6M193.1 320.3h2.6M193.5 320.4h2.6" stroke="#2020f5" stroke-width="1.7" fill="none"/>
<path d="M141.7 292.2h3M141.9 289.2h3M142.1 287.4h3M142.4 286.6h3M142.6 286h3M142.8 285.2h3M143 283.8h3M143.2 281.1h3M143.5 277.9h3M143.7 275h3M143.9 272.3h3M144.1 269.5h3M144.3 266.8h3M144.6 263.8h3M144.8 260.9h3M145 258.5h3M145.2 256.8h3M145.4 255.3h3M145.7 253.9h3M145.9 251.9h3M146.1 249.1h3M146.3 246.1h3M146.5 243.6h3M146.8 241.7h3M147 240h3M147.2 238.2h3M147.4 236.3h3M147.6 234.3h3M147.9 232.2h3M148.1 230.1h3M148.3 227.6h3M148.5 225.2h3M148.7 223.3h3M149 221.8h3M149.2 220.5h3M149.4 219.7h3M149.6 219.4h3M149.8 219.2h3M150.1 219h3M150.3 218.9h3M150.5 218.8h3M150.7 218.8h3M150.9 218.8h3M151.2 218.8h3M151.4 218.9h3M151.6 219h3M151.8 219.1h3M152 219.3h3M152.3 219.5h3M152.5 220.3h3M152.7 222.4h3M152.9 224.6h3M153.1 225.8h3M153.4 226.7h3M153.6 227.4h3M153.8 228h3M154 228.7h3M154.2 229.5h3M154.5 230.7h3M154.7 232.6h3M154.9 235.6h3M155.1 238.7h3M155.3 241h3M155.6 243.1h3M155.8 245h3M156 246.9h3M156.2 248.8h3M156.4 250.6h3M156.7 252.4h3M156.9 254.1h3M157.1 255.8h3M157.3 257.7h3M157.5 260.1h3M157.8 263.3h3M158 266.2h3M158.2 268h3M158.4 269.2h3M158.6 270.2h3M158.9 271h3M159.1 271.8h3M159.3 272.8h3M159.5 274h3M159.7 275.7h3M160 278.3h3M160.2 280.8h3M160.4 282.5h3M160.6 283.8h3M160.8 285.1h3M161.1 286.2h3M161.3 287.1h3M161.5 288h3M161.7 288.8h3M161.9 289.5h3M162.2 290.2h3M162.4 290.7h3M162.6 291.3h3M162.8 291.8h3M163 292.4h3M163.3 292.9h3M163.5 293.5h3M163.7 294.1h3M163.9 294.7h3M164.1 295.2h3M164.4 295.8h3" stroke="#5858f2" stroke-width="1.2" fill="none"/>
<path d="M10 323.4H197.3" stroke="#000" stroke-width="1.8" fill="none"/>
<path d="M196.5 214.1V324.2" stroke="#000" stroke-width="1.8" fill="none"/>
<path d="M13.1 323.4v3.2M99.7 323.4v3.2M193.6 323.4v3.2" stroke="#000" stroke-width="1.5" fill="none"/>
<path d="M30.4 323.4v1.8M47.7 323.4v1.8M65.1 323.4v1.8M82.4 323.4v1.8M118.5 323.4v1.8M137.3 323.4v1.8M156 323.4v1.8M174.8 323.4v1.8" stroke="#000" stroke-width="1.1" fill="none"/>
<path d="M196.5 310.1h5M196.5 280.4h5M196.5 249.3h5M196.5 219.4h5" stroke="#000" stroke-width="1.5" fill="none"/>
<path d="M196.5 322.2h2.6M196.5 316.1h2.6M196.5 304.1h2.6M196.5 298h2.6M196.5 292h2.6M196.5 285.9h2.6M196.5 273.8h2.6M196.5 267.8h2.6M196.5 261.7h2.6M196.5 255.7h2.6M196.5 243.6h2.6M196.5 237.5h2.6M196.5 231.5h2.6M196.5 225.4h2.6" stroke="#000" stroke-width="1.3" fill="none"/>
<text x="12.3" y="340.3" text-anchor="middle" class="tl">15</text>
<text x="99.7" y="340.3" text-anchor="middle" class="tl">20</text>
<text x="192.7" y="340.3" text-anchor="middle" class="tl">25</text>
<text x="101.1" y="351.9" text-anchor="middle" class="bl">Time (min)</text>
<text x="203.7" y="316.3" class="yl">0</text>
<text x="203.7" y="286.6" class="yl">0.5<tspan class="tm">×</tspan>10<tspan class="sup" dy="-3.5">-5</tspan></text>
<text x="203.7" y="255.5" class="yl">1.0<tspan class="tm">×</tspan>10<tspan class="sup" dy="-3.5">-5</tspan></text>
<text x="203.7" y="225.6" class="yl">1.5<tspan class="tm">×</tspan>10<tspan class="sup" dy="-3.5">-5</tspan></text>
<text transform="translate(263.8 269.3) rotate(90)" x="0" y="0" text-anchor="middle" class="rl">differential refractive index (RIU)</text>
<text x="10.2" y="226.2" class="nm">LLP-V</text>
<text x="59.2" y="238.8" class="num">1</text>
<text x="102.6" y="231.6" class="num">2</text>
<text x="124.2" y="260.3" class="num">3</text>
<line x1="318.8" y1="247" x2="318.8" y2="324" stroke="#ff1010" stroke-width="1.8" stroke-dasharray="3.8 1.4"/>
<line x1="361.8" y1="232.2" x2="361.8" y2="321.4" stroke="#ff1010" stroke-width="1.8" stroke-dasharray="3.8 1.4"/>
<line x1="386.5" y1="228.5" x2="386.5" y2="322" stroke="#ff1010" stroke-width="1.8" stroke-dasharray="3.8 1.4"/>
<line x1="404.9" y1="232.2" x2="404.9" y2="324" stroke="#ff1010" stroke-width="1.8" stroke-dasharray="3.8 1.4"/>
<line x1="441.1" y1="254.1" x2="441.1" y2="324" stroke="#ff1010" stroke-width="1.8" stroke-dasharray="3.8 1.4"/>
<path d="M288.7 322.2h2.6M289.1 322.2h2.6M289.5 322.2h2.6M289.9 322.2h2.6M290.3 322.2h2.6M290.7 322.1h2.6M291.1 322.1h2.6M291.5 322.1h2.6M291.9 322.1h2.6M292.3 322h2.6M292.7 322h2.6M293.1 322h2.6M293.5 322h2.6M293.9 321.9h2.6M294.3 321.9h2.6M294.7 321.9h2.6M295.1 321.8h2.6M295.5 321.8h2.6M295.9 321.8h2.6M296.3 321.7h2.6M296.7 321.7h2.6M297.1 321.7h2.6M297.5 321.6h2.6M297.9 321.6h2.6M298.3 321.5h2.6M298.7 321.5h2.6M299.1 321.5h2.6M299.5 321.4h2.6M299.9 321.4h2.6M300.3 321.3h2.6M300.7 321.3h2.6M301.1 321.2h2.6M301.5 321.2h2.6M301.9 321.1h2.6M302.3 321h2.6M302.7 321h2.6M303.1 320.9h2.6M303.5 320.8h2.6M303.9 320.8h2.6M304.3 320.7h2.6M304.7 320.6h2.6M305.1 320.5h2.6M305.5 320.5h2.6M305.9 320.4h2.6M306.3 320.3h2.6M306.7 320.2h2.6M307.1 320.1h2.6M307.5 320.1h2.6M307.9 320h2.6M308.3 319.9h2.6M308.7 319.8h2.6M309.1 319.7h2.6M309.5 319.6h2.6M309.9 319.5h2.6M310.3 319.4h2.6M310.7 319.3h2.6M311.1 319.2h2.6M311.5 319.1h2.6M311.9 318.9h2.6M312.3 318.8h2.6M312.7 318.7h2.6M313.1 318.6h2.6M313.5 318.5h2.6M313.9 318.3h2.6M314.3 318.2h2.6M314.7 318.1h2.6M315.1 318h2.6M315.5 317.8h2.6M315.9 317.7h2.6M316.3 317.6h2.6M316.7 317.5h2.6M317.1 317.3h2.6M317.5 317.2h2.6M317.9 317.1h2.6M318.3 316.9h2.6M318.7 316.8h2.6M319.1 316.7h2.6M319.5 316.6h2.6M319.9 316.4h2.6M320.3 316.3h2.6M320.7 316.1h2.6M321.1 316h2.6M321.5 315.8h2.6M321.9 315.6h2.6M322.3 315.4h2.6M322.7 315.2h2.6M323.1 314.9h2.6M323.5 314.7h2.6M323.9 314.4h2.6M324.3 314.1h2.6M324.7 313.8h2.6M325.1 313.5h2.6M325.5 313.2h2.6M325.9 312.9h2.6M326.3 312.6h2.6M326.7 312.2h2.6M327.1 311.9h2.6M327.5 311.5h2.6M327.9 311.1h2.6M328.3 310.6h2.6M328.7 310.2h2.6M329.1 309.7h2.6M329.5 309.2h2.6M329.9 308.7h2.6M330.3 308.1h2.6M330.7 307.5h2.6M331.1 306.9h2.6M331.5 306.2h2.6M331.9 305.6h2.6M332.3 304.9h2.6M332.7 304.2h2.6M333.1 303.5h2.6M333.5 302.8h2.6M333.9 302.1h2.6M334.3 301.3h2.6M334.7 300.5h2.6M335.1 299.7h2.6M335.5 298.8h2.6M335.9 297.7h2.6M336.3 296.5h2.6M336.7 295.2h2.6M337.1 293.8h2.6M337.5 292.5h2.6M337.9 291.2h2.6M338.3 289.8h2.6M338.7 288.4h2.6M339.1 287.1h2.6M339.5 285.9h2.6M339.9 284.7h2.6M340.3 283.5h2.6M340.7 282.3h2.6M341.1 281.1h2.6M341.5 279.9h2.6M341.9 278.6h2.6M342.3 277.3h2.6M342.7 276.2h2.6M343.1 275.2h2.6M343.5 274.2h2.6M343.9 273.3h2.6M344.3 272.5h2.6M344.7 271.9h2.6M345.1 271.4h2.6M345.5 270.9h2.6M345.9 270.4h2.6M346.3 270h2.6M346.7 269.7h2.6M347.1 269.5h2.6M347.5 269.4h2.6M347.9 269.4h2.6M348.3 269.4h2.6M348.7 269.4h2.6M349.1 269.5h2.6M349.5 269.5h2.6M349.9 269.5h2.6M350.3 269.6h2.6M350.7 269.6h2.6M351.1 269.7h2.6M351.5 269.8h2.6M351.9 270h2.6M352.3 270.2h2.6M352.7 270.4h2.6M353.1 270.6h2.6M353.5 270.8h2.6M353.9 270.9h2.6M354.3 271.1h2.6M354.7 271.2h2.6M355.1 271.4h2.6M355.5 271.5h2.6M355.9 271.6h2.6M356.3 271.7h2.6M356.7 271.8h2.6M357.1 271.8h2.6M357.5 271.7h2.6M357.9 271.6h2.6M358.3 271.5h2.6M358.7 271.3h2.6M359.1 271.1h2.6M359.5 270.9h2.6M359.9 270.7h2.6M360.3 270.4h2.6M360.7 270.2h2.6M361.1 269.8h2.6M361.5 269.5h2.6M361.9 269.1h2.6M362.3 268.7h2.6M362.7 268.4h2.6M363.1 268.2h2.6M363.5 268.1h2.6M363.9 268h2.6M364.3 267.9h2.6M364.7 267.9h2.6M365.1 267.8h2.6M365.5 267.8h2.6M365.9 267.7h2.6M366.3 267.7h2.6M366.7 267.7h2.6M367.1 267.9h2.6M367.5 268.2h2.6M367.9 268.7h2.6M368.3 269.2h2.6M368.7 269.8h2.6M369.1 270.3h2.6M369.5 270.8h2.6M369.9 271.4h2.6M370.3 272h2.6M370.7 272.6h2.6M371.1 273.3h2.6M371.5 274h2.6M371.9 274.7h2.6M372.3 275.5h2.6M372.7 276.4h2.6M373.1 277.3h2.6M373.5 278.1h2.6M373.9 279h2.6M374.3 279.8h2.6M374.7 280.6h2.6M375.1 281.4h2.6M375.5 282.2h2.6M375.9 283h2.6M376.3 283.8h2.6M376.7 284.6h2.6M377.1 285.3h2.6M377.5 286h2.6M377.9 286.7h2.6M378.3 287.3h2.6M378.7 288h2.6M379.1 288.6h2.6M379.5 289.2h2.6M379.9 289.9h2.6M380.3 290.5h2.6M380.7 291.1h2.6M381.1 291.8h2.6M381.5 292.4h2.6M381.9 293h2.6M382.3 293.5h2.6M382.7 294h2.6M383.1 294.6h2.6M383.5 295.2h2.6M383.9 295.7h2.6M384.3 296.2h2.6M384.7 296.5h2.6M385.1 296.7h2.6M385.5 296.7h2.6M385.9 296.6h2.6M386.3 296.5h2.6M386.7 296.4h2.6M387.1 296.2h2.6M387.5 296h2.6M387.9 295.8h2.6M388.3 295.5h2.6M388.7 295h2.6M389.1 294.2h2.6M389.5 293.3h2.6M389.9 292.4h2.6M390.3 291.6h2.6M390.7 290.9h2.6M391.1 290.5h2.6M391.5 290.2h2.6M391.9 289.9h2.6M392.3 289.6h2.6M392.7 289.4h2.6M393.1 289.3h2.6M393.5 289.4h2.6M393.9 289.6h2.6M394.3 290h2.6M394.7 290.5h2.6M395.1 291h2.6M395.5 291.6h2.6M395.9 292.3h2.6M396.3 293.3h2.6M396.7 294.4h2.6M397.1 295.5h2.6M397.5 296.4h2.6M397.9 297.3h2.6M398.3 298.2h2.6M398.7 299h2.6M399.1 299.8h2.6M399.5 300.5h2.6M399.9 301.1h2.6M400.3 301.7h2.6M400.7 302.3h2.6M401.1 302.8h2.6M401.5 303.2h2.6M401.9 303.5h2.6M402.3 303.8h2.6M402.7 304h2.6M403.1 304.2h2.6M403.5 304.3h2.6M403.9 304.2h2.6M404.3 304h2.6M404.7 303.7h2.6M405.1 303.3h2.6M405.5 302.9h2.6M405.9 302.5h2.6M406.3 302h2.6M406.7 301.5h2.6M407.1 300.8h2.6M407.5 299.9h2.6M407.9 298.2h2.6M425.1 280.8h2.6M425.5 283.4h2.6M425.9 285.7h2.6M426.3 287.5h2.6M426.7 288.7h2.6M427.1 289.8h2.6M427.5 290.8h2.6M427.9 291.8h2.6M428.3 292.8h2.6M428.7 293.8h2.6M429.1 294.7h2.6M429.5 295.7h2.6M429.9 296.7h2.6M430.3 297.7h2.6M430.7 298.7h2.6M431.1 299.7h2.6M431.5 300.7h2.6M431.9 301.7h2.6M432.3 302.6h2.6M432.7 303.5h2.6M433.1 304.4h2.6M433.5 305.2h2.6M433.9 306h2.6M434.3 306.8h2.6M434.7 307.5h2.6M435.1 308.3h2.6M435.5 309h2.6M435.9 309.7h2.6M436.3 310.3h2.6M436.7 311h2.6M437.1 311.6h2.6M437.5 312.1h2.6M437.9 312.5h2.6M438.3 312.9h2.6M438.7 313.3h2.6M439.1 313.6h2.6M439.5 314h2.6M439.9 314.3h2.6M440.3 314.6h2.6M440.7 314.9h2.6M441.1 315.2h2.6M441.5 315.5h2.6M441.9 315.7h2.6M442.3 316h2.6M442.7 316.2h2.6M443.1 316.4h2.6M443.5 316.6h2.6M443.9 316.7h2.6M444.3 316.8h2.6M444.7 317h2.6M445.1 317.1h2.6M445.5 317.2h2.6M445.9 317.3h2.6M446.3 317.4h2.6M446.7 317.5h2.6M447.1 317.6h2.6M447.5 317.7h2.6M447.9 317.8h2.6M448.3 317.9h2.6M448.7 317.9h2.6M449.1 318h2.6M449.5 318.1h2.6M449.9 318.1h2.6M450.3 318.2h2.6M450.7 318.3h2.6M451.1 318.3h2.6M451.5 318.4h2.6M451.9 318.5h2.6M452.3 318.5h2.6M452.7 318.6h2.6M453.1 318.7h2.6M453.5 318.7h2.6M453.9 318.8h2.6M454.3 318.8h2.6M454.7 318.9h2.6M455.1 318.9h2.6M455.5 319h2.6M455.9 319h2.6M456.3 319.1h2.6M456.7 319.1h2.6M457.1 319.2h2.6M457.5 319.2h2.6M457.9 319.2h2.6M458.3 319.3h2.6M458.7 319.3h2.6" stroke="#2020f5" stroke-width="1.7" fill="none"/>
<path d="M408 296.4h3M408.2 295.2h3M408.4 294.1h3M408.7 293h3M408.9 291.8h3M409.1 290.4h3M409.3 288.7h3M409.5 286.2h3M409.8 283.5h3M410 280.6h3M410.2 277.4h3M410.4 274.3h3M410.6 271.2h3M410.9 268.4h3M411.1 266.4h3M411.3 264.8h3M411.5 262.8h3M411.7 259.8h3M412 255.8h3M412.2 250.4h3M412.4 246.6h3M412.6 243h3M412.8 239.3h3M413.1 235.7h3M413.3 233.4h3M413.5 232.2h3M413.7 231.3h3M413.9 230.3h3M414.2 228.9h3M414.4 227.2h3M414.6 225.4h3M414.8 223.9h3M415 222.5h3M415.3 221.2h3M415.5 220.3h3M415.7 219.9h3M415.9 219.6h3M416.1 219.4h3M416.4 219.2h3M416.6 219.1h3M416.8 219h3M417 219h3M417.2 219.1h3M417.5 219.4h3M417.7 219.8h3M417.9 220.4h3M418.1 221.1h3M418.3 222.7h3M418.6 224.9h3M418.8 226.5h3M419 227.5h3M419.2 228.4h3M419.4 229.6h3M419.7 231.5h3M419.9 234.2h3M420.1 237h3M420.3 239.7h3M420.5 242.5h3M420.8 245.4h3M421 247.8h3M421.2 249.6h3M421.4 251.3h3M421.6 253.2h3M421.9 255h3M422.1 256.8h3M422.3 258.6h3M422.5 260.3h3M422.7 262.4h3M423 265.5h3M423.2 268.4h3M423.4 270.2h3M423.6 271.7h3M423.8 273.2h3M424.1 274.8h3M424.3 276.5h3" stroke="#5858f2" stroke-width="1.2" fill="none"/>
<path d="M286 323.4H463.4" stroke="#000" stroke-width="1.8" fill="none"/>
<path d="M462.6 214.1V324.2" stroke="#000" stroke-width="1.8" fill="none"/>
<path d="M288.6 323.4v3.2M371.2 323.4v3.2M459.6 323.4v3.2" stroke="#000" stroke-width="1.5" fill="none"/>
<path d="M305.1 323.4v1.8M321.6 323.4v1.8M338.2 323.4v1.8M354.7 323.4v1.8M388.9 323.4v1.8M406.6 323.4v1.8M424.2 323.4v1.8M441.9 323.4v1.8" stroke="#000" stroke-width="1.1" fill="none"/>
<path d="M462.6 310.1h5M462.6 280.4h5M462.6 249.2h5M462.6 219.8h5" stroke="#000" stroke-width="1.5" fill="none"/>
<path d="M462.6 322.1h2.6M462.6 316.1h2.6M462.6 304.1h2.6M462.6 298.1h2.6M462.6 292h2.6M462.6 286h2.6M462.6 274h2.6M462.6 268h2.6M462.6 261.9h2.6M462.6 255.9h2.6M462.6 243.9h2.6M462.6 237.9h2.6M462.6 231.8h2.6M462.6 225.8h2.6" stroke="#000" stroke-width="1.3" fill="none"/>
<text x="288.6" y="340.4" text-anchor="middle" class="tl">15</text>
<text x="371.2" y="340.4" text-anchor="middle" class="tl">20</text>
<text x="458.9" y="340.4" text-anchor="middle" class="tl">25</text>
<text x="374.2" y="351.8" text-anchor="middle" class="bl">Time (min)</text>
<text x="469.8" y="316.3" class="yl">0</text>
<text x="469.8" y="286.6" class="yl">0.5<tspan class="tm">×</tspan>10<tspan class="sup" dy="-3.5">-5</tspan></text>
<text x="469.8" y="255.4" class="yl">1.0<tspan class="tm">×</tspan>10<tspan class="sup" dy="-3.5">-5</tspan></text>
<text x="469.8" y="226" class="yl">1.5<tspan class="tm">×</tspan>10<tspan class="sup" dy="-3.5">-5</tspan></text>
<text transform="translate(521.9 269.8) rotate(90)" x="0" y="0" text-anchor="middle" class="rl">differential refractive index (RIU)</text>
<text x="286.6" y="226.4" class="nm">LLP-M</text>
<line x1="64.3" y1="433.4" x2="64.3" y2="511.4" stroke="#ff1010" stroke-width="1.8" stroke-dasharray="3.8 1.4"/>
<line x1="93.4" y1="418.6" x2="93.4" y2="507.8" stroke="#ff1010" stroke-width="1.8" stroke-dasharray="3.8 1.4"/>
<line x1="124.5" y1="417.3" x2="124.5" y2="510" stroke="#ff1010" stroke-width="1.8" stroke-dasharray="3.8 1.4"/>
<line x1="143.4" y1="419.5" x2="143.4" y2="511.4" stroke="#ff1010" stroke-width="1.8" stroke-dasharray="3.8 1.4"/>
<line x1="179.5" y1="441" x2="179.5" y2="512" stroke="#ff1010" stroke-width="1.8" stroke-dasharray="3.8 1.4"/>
<path d="M23.9 507.4h2.6M24.3 507.4h2.6M24.7 507.4h2.6M25.1 507.4h2.6M25.5 507.4h2.6M25.9 507.4h2.6M26.3 507.3h2.6M26.7 507.3h2.6M27.1 507.3h2.6M27.5 507.3h2.6M27.9 507.3h2.6M28.3 507.3h2.6M28.7 507.3h2.6M29.1 507.2h2.6M29.5 507.2h2.6M29.9 507.2h2.6M30.3 507.2h2.6M30.7 507.2h2.6M31.1 507.1h2.6M31.5 507.1h2.6M31.9 507.1h2.6M32.3 507.1h2.6M32.7 507.1h2.6M33.1 507h2.6M33.5 507h2.6M33.9 507h2.6M34.3 507h2.6M34.7 506.9h2.6M35.1 506.9h2.6M35.5 506.9h2.6M35.9 506.8h2.6M36.3 506.8h2.6M36.7 506.8h2.6M37.1 506.7h2.6M37.5 506.7h2.6M37.9 506.7h2.6M38.3 506.6h2.6M38.7 506.6h2.6M39.1 506.5h2.6M39.5 506.5h2.6M39.9 506.5h2.6M40.3 506.4h2.6M40.7 506.4h2.6M41.1 506.3h2.6M41.5 506.3h2.6M41.9 506.2h2.6M42.3 506.2h2.6M42.7 506.1h2.6M43.1 506.1h2.6M43.5 506h2.6M43.9 506h2.6M44.3 505.9h2.6M44.7 505.9h2.6M45.1 505.8h2.6M45.5 505.8h2.6M45.9 505.7h2.6M46.3 505.6h2.6M46.7 505.6h2.6M47.1 505.5h2.6M47.5 505.5h2.6M47.9 505.4h2.6M48.3 505.3h2.6M48.7 505.3h2.6M49.1 505.2h2.6M49.5 505.1h2.6M49.9 505.1h2.6M50.3 505h2.6M50.7 504.9h2.6M51.1 504.8h2.6M51.5 504.7h2.6M51.9 504.6h2.6M52.3 504.5h2.6M52.7 504.5h2.6M53.1 504.4h2.6M53.5 504.3h2.6M53.9 504.1h2.6M54.3 504h2.6M54.7 503.9h2.6M55.1 503.8h2.6M55.5 503.6h2.6M55.9 503.5h2.6M56.3 503.3h2.6M56.7 503.1h2.6M57.1 502.9h2.6M57.5 502.7h2.6M57.9 502.5h2.6M58.3 502.3h2.6M58.7 502.1h2.6M59.1 501.9h2.6M59.5 501.7h2.6M59.9 501.4h2.6M60.3 501.1h2.6M60.7 500.8h2.6M61.1 500.5h2.6M61.5 500.2h2.6M61.9 499.9h2.6M62.3 499.5h2.6M62.7 499.1h2.6M63.1 498.7h2.6M63.5 498.3h2.6M63.9 497.8h2.6M64.3 497.3h2.6M64.7 496.7h2.6M65.1 496.2h2.6M65.5 495.5h2.6M65.9 494.9h2.6M66.3 494.3h2.6M66.7 493.6h2.6M67.1 492.9h2.6M67.5 492.1h2.6M67.9 491.3h2.6M68.3 490.4h2.6M68.7 489.5h2.6M69.1 488.5h2.6M69.5 487.5h2.6M69.9 486.5h2.6M70.3 485.4h2.6M70.7 484.3h2.6M71.1 483h2.6M71.5 481.8h2.6M71.9 480.5h2.6M72.3 479.2h2.6M72.7 477.8h2.6M73.1 476.4h2.6M73.5 475h2.6M73.9 473.5h2.6M74.3 472.1h2.6M74.7 470.6h2.6M75.1 469.1h2.6M75.5 467.6h2.6M75.9 466.1h2.6M76.3 464.6h2.6M76.7 463.2h2.6M77.1 461.8h2.6M77.5 460.5h2.6M77.9 459.2h2.6M78.3 458h2.6M78.7 456.8h2.6M79.1 455.7h2.6M79.5 454.8h2.6M79.9 453.9h2.6M80.3 453h2.6M80.7 452.2h2.6M81.1 451.5h2.6M81.5 450.9h2.6M81.9 450.4h2.6M82.3 449.9h2.6M82.7 449.5h2.6M83.1 449.1h2.6M83.5 448.8h2.6M83.9 448.4h2.6M84.3 448.1h2.6M84.7 447.7h2.6M85.1 447.4h2.6M85.5 447.1h2.6M85.9 446.7h2.6M86.3 446.4h2.6M86.7 446.2h2.6M87.1 445.9h2.6M87.5 445.5h2.6M87.9 445.2h2.6M88.3 444.9h2.6M88.7 444.5h2.6M89.1 444.1h2.6M89.5 443.8h2.6M89.9 443.4h2.6M90.3 443h2.6M90.7 442.5h2.6M91.1 442.1h2.6M91.5 441.6h2.6M91.9 441h2.6M92.3 440.4h2.6M92.7 439.7h2.6M93.1 438.9h2.6M93.5 438.1h2.6M93.9 437.2h2.6M94.3 436.3h2.6M94.7 435.5h2.6M95.1 434.6h2.6M95.5 433.7h2.6M95.9 432.7h2.6M96.3 431.8h2.6M96.7 430.9h2.6M97.1 430.1h2.6M97.5 429.5h2.6M97.9 429.1h2.6M98.3 428.7h2.6M98.7 428.4h2.6M99.1 428.1h2.6M99.5 427.8h2.6M99.9 427.7h2.6M100.3 427.7h2.6M100.7 427.9h2.6M101.1 428.1h2.6M101.5 428.4h2.6M101.9 428.8h2.6M102.3 429.2h2.6M102.7 429.7h2.6M103.1 430.3h2.6M103.5 431.1h2.6M103.9 432h2.6M104.3 432.9h2.6M104.7 433.9h2.6M105.1 434.9h2.6M105.5 436.1h2.6M105.9 437.3h2.6M106.3 438.6h2.6M106.7 439.9h2.6M107.1 441.1h2.6M107.5 442.4h2.6M107.9 443.5h2.6M108.3 444.6h2.6M108.7 445.6h2.6M109.1 446.7h2.6M109.5 447.7h2.6M109.9 448.7h2.6M110.3 449.6h2.6M110.7 450.5h2.6M111.1 451.3h2.6M111.5 452h2.6M111.9 452.6h2.6M112.3 453.3h2.6M112.7 453.8h2.6M113.1 454.4h2.6M113.5 455h2.6M113.9 455.6h2.6M114.3 456.3h2.6M114.7 457h2.6M115.1 457.8h2.6M115.5 458.5h2.6M115.9 459.4h2.6M116.3 460.2h2.6M116.7 461.2h2.6M117.1 462.2h2.6M117.5 463.4h2.6M117.9 464.9h2.6M118.3 466.4h2.6M118.7 468h2.6M119.1 469.5h2.6M119.5 471.1h2.6M119.9 472.7h2.6M120.3 474.5h2.6M120.7 476.6h2.6M121.1 478.6h2.6M121.5 480.1h2.6M121.9 481.4h2.6M122.3 482.5h2.6M122.7 483.5h2.6M123.1 484.4h2.6M123.5 485.2h2.6M123.9 485.8h2.6M124.3 486h2.6M124.7 486h2.6M125.1 486h2.6M125.5 486h2.6M125.9 486h2.6M126.3 486h2.6M126.7 486h2.6M127.1 486h2.6M127.5 486h2.6M127.9 485.9h2.6M128.3 485.9h2.6M128.7 485.9h2.6M129.1 485.8h2.6M129.5 485.8h2.6M129.9 485.8h2.6M130.3 486h2.6M130.7 486.3h2.6M131.1 486.7h2.6M131.5 487.2h2.6M131.9 487.6h2.6M132.3 488.1h2.6M132.7 488.7h2.6M133.1 489.4h2.6M133.5 490.2h2.6M133.9 490.9h2.6M134.3 491.5h2.6M134.7 492h2.6M135.1 492.4h2.6M135.5 492.8h2.6M135.9 493.1h2.6M136.3 493.4h2.6M136.7 493.7h2.6M137.1 493.9h2.6M137.5 494h2.6M137.9 494h2.6M138.3 493.9h2.6M138.7 493.8h2.6M139.1 493.6h2.6M139.5 493.4h2.6M139.9 493.2h2.6M140.3 492.9h2.6M140.7 492.6h2.6M141.1 492.2h2.6M141.5 491.8h2.6M141.9 491.3h2.6M142.3 490.9h2.6M142.7 490.5h2.6M143.1 490.1h2.6M143.5 489.7h2.6M143.9 489.2h2.6M144.3 488.7h2.6M144.7 488h2.6M145.1 487h2.6M145.5 485.5h2.6M145.9 483.1h2.6M169.1 477.9h2.6M169.5 479.4h2.6M169.9 480.7h2.6M170.3 482h2.6M170.7 483.2h2.6M171.1 484.4h2.6M171.5 485.5h2.6M171.9 486.7h2.6M172.3 487.8h2.6M172.7 489h2.6M173.1 490.2h2.6M173.5 491.3h2.6M173.9 492.4h2.6M174.3 493.3h2.6M174.7 494.1h2.6M175.1 494.9h2.6M175.5 495.6h2.6M175.9 496.2h2.6M176.3 496.9h2.6M176.7 497.5h2.6M177.1 498.1h2.6M177.5 498.7h2.6M177.9 499.3h2.6M178.3 499.7h2.6M178.7 500.1h2.6M179.1 500.4h2.6M179.5 500.7h2.6M179.9 501h2.6M180.3 501.2h2.6M180.7 501.5h2.6M181.1 501.7h2.6M181.5 501.9h2.6M181.9 502.1h2.6M182.3 502.3h2.6M182.7 502.5h2.6M183.1 502.6h2.6M183.5 502.8h2.6M183.9 503h2.6M184.3 503.1h2.6M184.7 503.3h2.6M185.1 503.4h2.6M185.5 503.6h2.6M185.9 503.7h2.6M186.3 503.8h2.6M186.7 503.9h2.6M187.1 504h2.6M187.5 504.1h2.6M187.9 504.2h2.6M188.3 504.3h2.6M188.7 504.4h2.6M189.1 504.4h2.6M189.5 504.5h2.6M189.9 504.5h2.6M190.3 504.6h2.6M190.7 504.7h2.6M191.1 504.7h2.6M191.5 504.8h2.6M191.9 504.9h2.6M192.3 504.9h2.6M192.7 505h2.6M193.1 505h2.6M193.5 505.1h2.6M193.9 505.1h2.6M194.3 505.1h2.6M194.7 505.2h2.6M195.1 505.2h2.6M195.5 505.2h2.6M195.9 505.3h2.6M196.3 505.3h2.6M196.7 505.3h2.6M197.1 505.3h2.6M197.5 505.3h2.6" stroke="#2020f5" stroke-width="1.7" fill="none"/>
<path d="M146 480.2h3M146.2 477.9h3M146.4 475.8h3M146.7 474.2h3M146.9 472.8h3M147.1 471.6h3M147.3 470.3h3M147.5 468.7h3M147.8 466.5h3M148 463.7h3M148.2 461.1h3M148.4 459.2h3M148.6 457.5h3M148.9 456h3M149.1 454.5h3M149.3 453.1h3M149.5 451.8h3M149.7 450.4h3M150 449h3M150.2 447.6h3M150.4 445.9h3M150.6 443.6h3M150.8 440.2h3M151.1 437.3h3M151.3 435h3M151.5 433h3M151.7 431h3M151.9 429.2h3M152.2 427.6h3M152.4 426.3h3M152.6 425.2h3M152.8 424h3M153 422.7h3M153.3 421.2h3M153.5 419.5h3M153.7 418h3M153.9 416.6h3M154.1 415.4h3M154.4 414.4h3M154.6 413.9h3M154.8 413.5h3M155 413.3h3M155.2 413h3M155.5 412.9h3M155.7 412.8h3M155.9 412.8h3M156.1 412.8h3M156.3 412.9h3M156.6 413h3M156.8 413.1h3M157 413.3h3M157.2 413.4h3M157.4 413.6h3M157.7 414h3M157.9 414.5h3M158.1 415.2h3M158.3 416.1h3M158.5 418.3h3M158.8 421.3h3M159 423.8h3M159.2 425.8h3M159.4 427.5h3M159.6 428.7h3M159.9 429.5h3M160.1 430.2h3M160.3 430.9h3M160.5 431.6h3M160.7 432.7h3M161 434.3h3M161.2 436.6h3M161.4 439.2h3M161.6 442.1h3M161.8 444.5h3M162.1 446.7h3M162.3 448.7h3M162.5 450.4h3M162.7 452.1h3M162.9 453.6h3M163.2 455.1h3M163.4 456.5h3M163.6 458h3M163.8 459.5h3M164 460.8h3M164.3 461.9h3M164.5 462.8h3M164.7 463.6h3M164.9 464.3h3M165.1 465h3M165.4 465.6h3M165.6 466.2h3M165.8 466.9h3M166 467.6h3M166.2 468.4h3M166.5 469.1h3M166.7 469.9h3M166.9 470.7h3M167.1 471.5h3M167.3 472.3h3M167.6 473.1h3M167.8 473.9h3M168 474.7h3M168.2 475.5h3M168.4 476.3h3" stroke="#5858f2" stroke-width="1.2" fill="none"/>
<path d="M23.8 509.6H200.9" stroke="#000" stroke-width="1.8" fill="none"/>
<path d="M200.1 401.6V510.4" stroke="#000" stroke-width="1.8" fill="none"/>
<path d="M26.3 509.6v3.2M109.3 509.6v3.2M197.4 509.6v3.2" stroke="#000" stroke-width="1.5" fill="none"/>
<path d="M42.9 509.6v1.8M59.5 509.6v1.8M76.1 509.6v1.8M92.7 509.6v1.8M126.9 509.6v1.8M144.5 509.6v1.8M162.2 509.6v1.8M179.8 509.6v1.8" stroke="#000" stroke-width="1.1" fill="none"/>
<path d="M200.1 497h5M200.1 466.5h5M200.1 436.6h5M200.1 406.2h5" stroke="#000" stroke-width="1.5" fill="none"/>
<path d="M200.1 509.1h2.6M200.1 503.1h2.6M200.1 490.9h2.6M200.1 484.9h2.6M200.1 478.8h2.6M200.1 472.8h2.6M200.1 460.7h2.6M200.1 454.6h2.6M200.1 448.6h2.6M200.1 442.5h2.6M200.1 430.4h2.6M200.1 424.4h2.6M200.1 418.3h2.6M200.1 412.3h2.6" stroke="#000" stroke-width="1.3" fill="none"/>
<text x="26.3" y="527" text-anchor="middle" class="tl">15</text>
<text x="109.3" y="527" text-anchor="middle" class="tl">20</text>
<text x="196.7" y="527" text-anchor="middle" class="tl">25</text>
<text x="111.9" y="538.9" text-anchor="middle" class="bl">Time (min)</text>
<text x="207.3" y="502.4" class="yl">0</text>
<text x="207.3" y="472.5" class="yl">0.5<tspan class="tm">×</tspan>10<tspan class="sup" dy="-3.5">-5</tspan></text>
<text x="207.3" y="443.1" class="yl">1.0<tspan class="tm">×</tspan>10<tspan class="sup" dy="-3.5">-5</tspan></text>
<text x="207.3" y="412.7" class="yl">1.5<tspan class="tm">×</tspan>10<tspan class="sup" dy="-3.5">-5</tspan></text>
<text transform="translate(260.6 456.8) rotate(90)" x="0" y="0" text-anchor="middle" class="rl">differential refractive index (RIU)</text>
<text x="24.5" y="413.2" class="nm">LLP-RF</text>
<line x1="330" y1="433.4" x2="330" y2="511.4" stroke="#ff1010" stroke-width="1.8" stroke-dasharray="3.8 1.4"/>
<line x1="359" y1="418.6" x2="359" y2="507.8" stroke="#ff1010" stroke-width="1.8" stroke-dasharray="3.8 1.4"/>
<line x1="389.5" y1="417.3" x2="389.5" y2="510" stroke="#ff1010" stroke-width="1.8" stroke-dasharray="3.8 1.4"/>
<line x1="409.2" y1="419.5" x2="409.2" y2="511.4" stroke="#ff1010" stroke-width="1.8" stroke-dasharray="3.8 1.4"/>
<line x1="445.3" y1="441.2" x2="445.3" y2="512" stroke="#ff1010" stroke-width="1.8" stroke-dasharray="3.8 1.4"/>
<path d="M292.7 507h2.6M293.1 506.9h2.6M293.5 506.7h2.6M293.9 506.6h2.6M294.3 506.4h2.6M294.7 506.3h2.6M295.1 506.1h2.6M295.5 506h2.6M295.9 505.8h2.6M296.3 505.6h2.6M296.7 505.5h2.6M297.1 505.3h2.6M297.5 505.1h2.6M297.9 505h2.6M298.3 504.8h2.6M298.7 504.6h2.6M299.1 504.4h2.6M299.5 504.2h2.6M299.9 504h2.6M300.3 503.8h2.6M300.7 503.5h2.6M301.1 503.3h2.6M301.5 503h2.6M301.9 502.8h2.6M302.3 502.6h2.6M302.7 502.3h2.6M303.1 502.1h2.6M303.5 501.9h2.6M303.9 501.7h2.6M304.3 501.6h2.6M304.7 501.4h2.6M305.1 501.3h2.6M305.5 501.1h2.6M305.9 501h2.6M306.3 500.8h2.6M306.7 500.7h2.6M307.1 500.6h2.6M307.5 500.4h2.6M307.9 500.3h2.6M308.3 500.2h2.6M308.7 500.1h2.6M309.1 500h2.6M309.5 499.9h2.6M309.9 499.8h2.6M310.3 499.7h2.6M310.7 499.7h2.6M311.1 499.6h2.6M311.5 499.6h2.6M311.9 499.6h2.6M312.3 499.6h2.6M312.7 499.6h2.6M313.1 499.5h2.6M313.5 499.5h2.6M313.9 499.5h2.6M314.3 499.5h2.6M314.7 499.5h2.6M315.1 499.5h2.6M315.5 499.5h2.6M315.9 499.5h2.6M316.3 499.5h2.6M316.7 499.6h2.6M317.1 499.7h2.6M317.5 499.8h2.6M317.9 499.9h2.6M318.3 500h2.6M318.7 500.2h2.6M319.1 500.3h2.6M319.5 500.5h2.6M319.9 500.6h2.6M320.3 500.7h2.6M320.7 500.8h2.6M321.1 500.9h2.6M321.5 501h2.6M321.9 501.1h2.6M322.3 501.2h2.6M322.7 501.3h2.6M323.1 501.4h2.6M323.5 501.4h2.6M323.9 501.4h2.6M324.3 501.4h2.6M324.7 501.4h2.6M325.1 501.4h2.6M325.5 501.4h2.6M325.9 501.3h2.6M326.3 501.3h2.6M326.7 501.3h2.6M327.1 501.3h2.6M327.5 501.2h2.6M327.9 501.2h2.6M328.3 501.1h2.6M328.7 501.1h2.6M329.1 501h2.6M329.5 500.8h2.6M329.9 500.6h2.6M330.3 500.3h2.6M330.7 500.1h2.6M331.1 499.7h2.6M331.5 499.4h2.6M331.9 499.1h2.6M332.3 498.7h2.6M332.7 498.3h2.6M333.1 497.9h2.6M333.5 497.5h2.6M333.9 497h2.6M334.3 496.5h2.6M334.7 495.9h2.6M335.1 495.3h2.6M335.5 494.7h2.6M335.9 493.9h2.6M336.3 493h2.6M336.7 492h2.6M337.1 490.9h2.6M337.5 489.9h2.6M337.9 488.8h2.6M338.3 487.5h2.6M338.7 486.3h2.6M339.1 485h2.6M339.5 483.7h2.6M339.9 482.6h2.6M340.3 481.6h2.6M340.7 480.6h2.6M341.1 479.6h2.6M341.5 478.7h2.6M341.9 477.9h2.6M342.3 477h2.6M342.7 476.1h2.6M343.1 475.3h2.6M343.5 474.5h2.6M343.9 473.7h2.6M344.3 472.9h2.6M344.7 472.1h2.6M345.1 471.4h2.6M345.5 470.6h2.6M345.9 469.9h2.6M346.3 469.2h2.6M346.7 468.5h2.6M347.1 467.8h2.6M347.5 467.1h2.6M347.9 466.4h2.6M348.3 465.8h2.6M348.7 465.1h2.6M349.1 464.5h2.6M349.5 463.9h2.6M349.9 463.4h2.6M350.3 462.8h2.6M350.7 462.2h2.6M351.1 461.6h2.6M351.5 461h2.6M351.9 460.4h2.6M352.3 459.7h2.6M352.7 459h2.6M353.1 458.4h2.6M353.5 457.7h2.6M353.9 456.9h2.6M354.3 456.1h2.6M354.7 455.3h2.6M355.1 454.4h2.6M355.5 453.4h2.6M355.9 452.3h2.6M356.3 451.2h2.6M356.7 450h2.6M357.1 448.8h2.6M357.5 447.5h2.6M357.9 446.2h2.6M358.3 444.8h2.6M358.7 443.4h2.6M359.1 442h2.6M359.5 440.5h2.6M359.9 438.8h2.6M360.3 437.2h2.6M360.7 435.8h2.6M361.1 434.6h2.6M361.5 433.5h2.6M361.9 432.5h2.6M362.3 431.6h2.6M362.7 430.7h2.6M363.1 430h2.6M363.5 429.3h2.6M363.9 428.7h2.6M364.3 428.1h2.6M364.7 427.5h2.6M365.1 427.2h2.6M365.5 427h2.6M365.9 426.8h2.6M366.3 426.7h2.6M366.7 426.6h2.6M367.1 426.5h2.6M367.5 426.5h2.6M367.9 426.5h2.6M368.3 426.8h2.6M368.7 427.2h2.6M369.1 427.7h2.6M369.5 428.3h2.6M369.9 429h2.6M370.3 429.6h2.6M370.7 430.4h2.6M371.1 431.3h2.6M371.5 432.3h2.6M371.9 433.3h2.6M372.3 434.4h2.6M372.7 435.5h2.6M373.1 436.6h2.6M373.5 437.8h2.6M373.9 439.1h2.6M374.3 440.4h2.6M374.7 441.8h2.6M375.1 443.3h2.6M375.5 445h2.6M375.9 447.2h2.6M376.3 449.8h2.6M376.7 451.8h2.6M377.1 453.1h2.6M377.5 454.1h2.6M377.9 455h2.6M378.3 455.9h2.6M378.7 456.9h2.6M379.1 457.9h2.6M379.5 458.8h2.6M379.9 459.8h2.6M380.3 460.9h2.6M380.7 462.2h2.6M381.1 463.5h2.6M381.5 464.9h2.6M381.9 466.1h2.6M382.3 467.1h2.6M382.7 468.1h2.6M383.1 469.1h2.6M383.5 470h2.6M383.9 470.9h2.6M384.3 471.8h2.6M384.7 472.6h2.6M385.1 473.4h2.6M385.5 474.1h2.6M385.9 474.6h2.6M386.3 475.2h2.6M386.7 475.7h2.6M387.1 476.2h2.6M387.5 476.6h2.6M387.9 476.8h2.6M388.3 476.7h2.6M388.7 476.3h2.6M389.1 475.6h2.6M389.5 474.7h2.6M389.9 473.7h2.6M390.3 472.7h2.6M390.7 471.7h2.6M391.1 470.6h2.6M391.5 469.3h2.6M391.9 468.1h2.6M392.3 467h2.6M392.7 465.8h2.6M393.1 464.6h2.6M393.5 463.5h2.6M393.9 462.8h2.6M394.3 462.5h2.6M394.7 462.2h2.6M395.1 462h2.6M395.5 461.8h2.6M395.9 461.8h2.6M396.3 462h2.6M396.7 462.3h2.6M397.1 462.9h2.6M397.5 463.4h2.6M397.9 464.2h2.6M398.3 465.5h2.6M398.7 467.1h2.6M399.1 468.6h2.6M399.5 470.2h2.6M399.9 471.9h2.6M400.3 473.6h2.6M400.7 475.4h2.6M401.1 477.3h2.6M401.5 479.2h2.6M401.9 480.8h2.6M402.3 482.3h2.6M402.7 483.8h2.6M403.1 485.2h2.6M403.5 486.4h2.6M403.9 487.6h2.6M404.3 488.7h2.6M404.7 489.7h2.6M405.1 490.6h2.6M405.5 491.2h2.6M405.9 491.8h2.6M406.3 492.3h2.6M406.7 492.7h2.6M407.1 493h2.6M407.5 493.2h2.6M407.9 493.2h2.6M408.3 493.1h2.6M408.7 492.9h2.6M409.1 492.8h2.6M409.5 492.5h2.6M409.9 492.3h2.6M410.3 492h2.6M410.7 491.6h2.6M411.1 491.1h2.6M411.5 490.2h2.6M411.9 487.4h2.6M429.9 480.4h2.6M430.3 481.8h2.6M430.7 483h2.6M431.1 484.2h2.6M431.5 485.2h2.6M431.9 486.3h2.6M432.3 487.2h2.6M432.7 488.1h2.6M433.1 489h2.6M433.5 489.8h2.6M433.9 490.6h2.6M434.3 491.3h2.6M434.7 492.1h2.6M435.1 492.8h2.6M435.5 493.5h2.6M435.9 494.3h2.6M436.3 495.1h2.6M436.7 495.8h2.6M437.1 496.5h2.6M437.5 497.1h2.6M437.9 497.6h2.6M438.3 498h2.6M438.7 498.3h2.6M439.1 498.5h2.6M439.5 498.7h2.6M439.9 498.9h2.6M440.3 499.1h2.6M440.7 499.2h2.6M441.1 499.3h2.6M441.5 499.5h2.6M441.9 499.6h2.6M442.3 499.7h2.6M442.7 499.9h2.6M443.1 500h2.6M443.5 500.2h2.6M443.9 500.3h2.6M444.3 500.5h2.6M444.7 500.6h2.6M445.1 500.8h2.6M445.5 500.9h2.6M445.9 501h2.6M446.3 501.2h2.6M446.7 501.3h2.6M447.1 501.4h2.6M447.5 501.5h2.6M447.9 501.6h2.6M448.3 501.7h2.6M448.7 501.8h2.6M449.1 501.9h2.6M449.5 502h2.6M449.9 502.1h2.6M450.3 502.2h2.6M450.7 502.3h2.6M451.1 502.4h2.6M451.5 502.5h2.6M451.9 502.7h2.6M452.3 502.8h2.6M452.7 502.9h2.6M453.1 503.1h2.6M453.5 503.2h2.6M453.9 503.3h2.6M454.3 503.4h2.6M454.7 503.5h2.6M455.1 503.6h2.6M455.5 503.6h2.6M455.9 503.7h2.6M456.3 503.8h2.6M456.7 503.9h2.6M457.1 503.9h2.6M457.5 504h2.6M457.9 504h2.6M458.3 504.1h2.6M458.7 504.1h2.6M459.1 504.2h2.6M459.5 504.2h2.6M459.9 504.2h2.6M460.3 504.3h2.6M460.7 504.3h2.6M461.1 504.3h2.6" stroke="#2020f5" stroke-width="1.7" fill="none"/>
<path d="M412 484.9h3M412.2 482.7h3M412.4 480.4h3M412.7 478.7h3M412.9 477.4h3M413.1 476.2h3M413.3 475.1h3M413.5 474.1h3M413.8 473.1h3M414 472h3M414.2 470.9h3M414.4 469.9h3M414.6 468.8h3M414.9 467.7h3M415.1 466.4h3M415.3 464.8h3M415.5 462.8h3M415.7 460.5h3M416 458.3h3M416.2 456.2h3M416.4 454.1h3M416.6 452h3M416.8 449.7h3M417.1 447.5h3M417.3 445.6h3M417.5 444.2h3M417.7 442.9h3M417.9 441.7h3M418.2 441h3M418.4 440.6h3M418.6 440.4h3M418.8 440.2h3M419 440.1h3M419.3 440h3M419.5 439.9h3M419.7 439.8h3M419.9 439.8h3M420.1 439.8h3M420.4 439.8h3M420.6 439.9h3M420.8 439.9h3M421 440h3M421.2 440.1h3M421.5 440.3h3M421.7 440.4h3M421.9 440.6h3M422.1 441h3M422.3 441.6h3M422.6 442.3h3M422.8 443.1h3M423 444.5h3M423.2 446.1h3M423.4 447.8h3M423.7 449.3h3M423.9 450.4h3M424.1 451.4h3M424.3 452.3h3M424.5 453.2h3M424.8 454h3M425 454.8h3M425.2 455.8h3M425.4 456.7h3M425.6 457.7h3M425.9 458.6h3M426.1 459.6h3M426.3 460.7h3M426.5 461.9h3M426.7 463.3h3M427 465.4h3M427.2 467.7h3M427.4 469.7h3M427.6 471.1h3M427.8 472.4h3M428.1 473.5h3M428.3 474.5h3M428.5 475.5h3M428.7 476.5h3M428.9 477.4h3M429.2 478.4h3M429.4 479.2h3" stroke="#5858f2" stroke-width="1.2" fill="none"/>
<path d="M289.9 509.8H466.9" stroke="#000" stroke-width="1.8" fill="none"/>
<path d="M466.1 401.6V510.6" stroke="#000" stroke-width="1.8" fill="none"/>
<path d="M292 509.8v3.2M374.8 509.8v3.2M462.9 509.8v3.2" stroke="#000" stroke-width="1.5" fill="none"/>
<path d="M308.6 509.8v1.8M325.1 509.8v1.8M341.7 509.8v1.8M358.2 509.8v1.8M392.4 509.8v1.8M410 509.8v1.8M427.7 509.8v1.8M445.3 509.8v1.8" stroke="#000" stroke-width="1.1" fill="none"/>
<path d="M466.1 497h5M466.1 466.5h5M466.1 436.6h5M466.1 406.2h5" stroke="#000" stroke-width="1.5" fill="none"/>
<path d="M466.1 509.1h2.6M466.1 503.1h2.6M466.1 490.9h2.6M466.1 484.9h2.6M466.1 478.8h2.6M466.1 472.8h2.6M466.1 460.7h2.6M466.1 454.6h2.6M466.1 448.6h2.6M466.1 442.5h2.6M466.1 430.4h2.6M466.1 424.4h2.6M466.1 418.3h2.6M466.1 412.3h2.6" stroke="#000" stroke-width="1.3" fill="none"/>
<text x="292" y="527" text-anchor="middle" class="tl">15</text>
<text x="374.8" y="527" text-anchor="middle" class="tl">20</text>
<text x="462.9" y="527" text-anchor="middle" class="tl">25</text>
<text x="377.9" y="538.9" text-anchor="middle" class="bl">Time (min)</text>
<text x="473.3" y="502.4" class="yl">0</text>
<text x="473.3" y="472.5" class="yl">0.5<tspan class="tm">×</tspan>10<tspan class="sup" dy="-3.5">-5</tspan></text>
<text x="473.3" y="443.1" class="yl">1.0<tspan class="tm">×</tspan>10<tspan class="sup" dy="-3.5">-5</tspan></text>
<text x="473.3" y="412.7" class="yl">1.5<tspan class="tm">×</tspan>10<tspan class="sup" dy="-3.5">-5</tspan></text>
<text transform="translate(525.5 457.6) rotate(90)" x="0" y="0" text-anchor="middle" class="rl">differential refractive index (RIU)</text>
<text x="290.2" y="413.2" class="nm">LLP-F</text>

</svg>
</body></html>
